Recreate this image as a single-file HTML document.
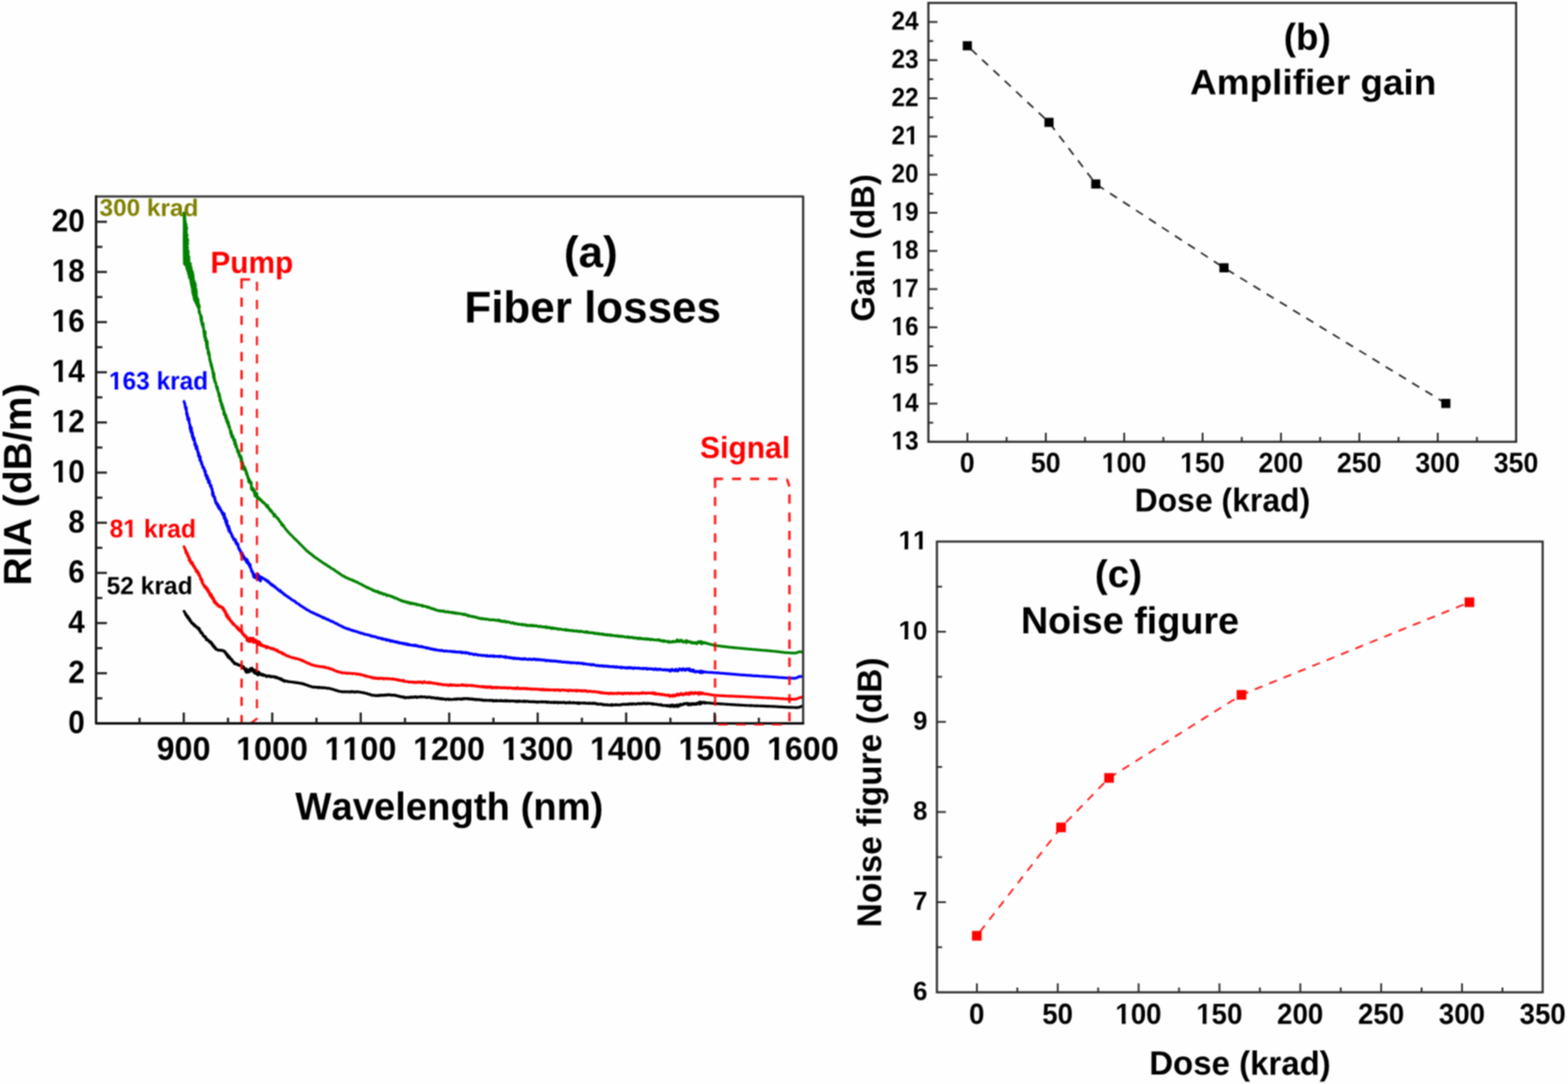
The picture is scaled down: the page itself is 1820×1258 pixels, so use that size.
<!DOCTYPE html>
<html lang="en"><head><meta charset="utf-8"><title>Fiber losses, amplifier gain and noise figure versus dose</title>
<style>
html,body{margin:0;padding:0;background:#fefefe;}
body{width:1820px;height:1258px;overflow:hidden;}
svg{display:block;}
svg text{font-family:"Liberation Sans",Arial,Helvetica,sans-serif;font-weight:bold;font-kerning:none;}
</style></head><body>
<svg width="1820" height="1258" viewBox="0 0 1820 1258">
<defs><clipPath id="c0"><path clip-rule="evenodd" d="M-60,-110H1400V60H-60ZM1.0,-12.5H23.1V3H1.0ZM37.3,-12.5H58.0V3H37.3Z"/></clipPath><clipPath id="c0_56"><path clip-rule="evenodd" d="M-60,-110H1400V60H-60ZM1.0,-12.5H23.1V3H1.0ZM37.3,-12.5H58.0V3H37.3ZM56.6,-12.5H78.7V3H56.6ZM92.9,-12.5H113.6V3H92.9Z"/></clipPath><clipPath id="c56"><path clip-rule="evenodd" d="M-60,-110H1400V60H-60ZM56.6,-12.5H78.7V3H56.6ZM92.9,-12.5H113.6V3H92.9Z"/></clipPath></defs>
<defs><filter id="soft" x="-60" y="-60" width="1940" height="1378" filterUnits="userSpaceOnUse" color-interpolation-filters="sRGB"><feConvolveMatrix order="3" kernelMatrix="1 2.0 1 2.0 4.0 2.0 1 2.0 1" edgeMode="duplicate" preserveAlpha="true"/></filter></defs>
<g filter="url(#soft)">
<rect x="-60" y="-60" width="1940" height="1378" fill="#fefefe"/>
<g id="panel-a">
<path d="M213.6,709.3 213.85,709.8 214.1,710.2 214.35,710.4 214.6,710.9 214.85,711.1 215.1,712.0 215.35,713.3 215.6,712.5 215.85,712.8 216.1,714.2 216.35,714.5 216.6,714.6 216.85,714.1 217.1,715.3 217.35,716.4 217.6,715.0 217.85,716.2 218.1,715.3 218.35,716.2 218.6,716.2 218.85,717.9 219.1,717.4 219.35,719.0 219.6,719.2 219.85,719.3 220.1,718.0 220.35,719.7 220.6,720.4 220.85,720.8 221.1,720.0 221.35,721.0 221.6,721.0 221.85,721.4 222.1,722.8 222.35,722.0 222.6,722.7 222.85,723.4 223.1,722.9 223.35,723.4 223.6,723.7 223.85,723.9 224.1,723.5 224.35,724.4 224.6,725.2 224.85,724.1 225.1,725.4 225.35,725.2 225.6,725.1 225.85,726.5 226.1,726.2 226.35,725.5 226.6,726.3 226.85,726.7 227.1,726.5 227.35,727.2 227.6,727.0 227.85,727.6 228.1,728.2 228.35,727.4 228.6,728.0 228.85,727.9 229.1,728.4 229.35,728.0 229.6,728.5 229.85,729.0 230.1,729.9 230.35,730.3 230.6,729.1 230.85,729.7 231.1,730.9 231.35,729.4 231.6,730.8 231.85,731.3 232.1,732.7 232.35,732.6 232.6,732.2 232.85,732.5 233.1,732.9 233.35,734.7 233.6,733.5 233.85,734.0 234.1,734.8 234.35,734.8 234.6,735.1 234.85,734.8 235.1,736.0 235.35,736.0 235.6,737.6 235.85,737.5 236.1,737.3 236.35,738.2 236.6,737.8 236.85,739.0 237.1,738.6 237.35,739.2 237.6,738.4 237.85,739.6 238.1,738.7 238.35,738.8 238.6,740.1 238.85,740.0 239.1,740.9 239.35,742.3 239.6,740.8 239.85,741.2 240.1,741.9 240.35,742.3 240.6,742.2 240.85,742.4 241.1,743.1 241.35,743.2 241.6,742.7 241.85,743.4 242.1,743.7 242.35,743.4 242.6,744.3 242.85,743.9 243.1,745.1 243.35,744.9 243.6,745.1 243.85,745.0 244.1,745.5 244.35,744.7 244.6,745.4 244.85,746.5 245.1,745.4 245.35,747.2 245.6,746.0 245.85,747.7 246.1,747.0 246.35,748.3 246.6,748.2 246.85,747.4 247.1,749.5 247.35,750.0 247.6,749.2 247.85,749.4 248.1,749.8 248.35,749.6 248.6,751.3 248.85,750.5 249.1,751.1 249.35,750.9 249.6,751.4 249.85,751.3 250.1,753.1 250.35,752.5 250.6,753.4 250.85,753.1 251.1,753.0 251.35,753.4 251.6,753.5 251.85,753.9 252.1,753.9 252.35,754.0 252.6,754.0 252.85,754.2 253.1,754.6 253.35,754.3 253.6,754.3 253.85,754.5 254.1,754.7 254.35,754.3 254.6,754.5 254.85,754.5 255.1,754.3 255.35,754.7 255.6,754.6 255.85,754.7 256.1,754.6 256.35,754.8 256.6,754.6 256.85,754.7 257.1,754.6 257.35,754.6 257.6,755.0 257.85,754.8 258.1,755.0 258.35,754.9 258.6,754.9 258.85,755.0 259.1,755.3 259.35,755.2 259.6,755.4 259.85,755.6 260.1,756.3 260.35,756.3 260.6,756.4 260.85,756.1 261.1,755.9 261.35,757.5 261.6,757.8 261.85,757.4 262.1,758.2 262.35,758.7 262.6,759.0 262.85,759.5 263.1,758.8 263.35,760.6 263.6,758.8 263.85,760.8 264.1,760.9 264.35,761.5 264.6,762.6 264.85,762.6 265.1,761.0 265.35,761.0 265.6,763.1 265.85,762.1 266.1,763.2 266.35,764.0 266.6,762.7 266.85,762.8 267.1,764.5 267.35,764.6 267.6,764.7 267.85,765.1 268.1,764.9 268.35,764.7 268.6,765.8 268.85,765.6 269.1,765.5 269.35,767.1 269.6,767.0 269.85,767.6 270.1,767.0 270.35,767.5 270.6,767.5 270.85,767.9 271.1,768.7 271.35,768.4 271.6,769.2 271.85,769.4 272.1,770.3 272.35,769.1 272.6,770.1 272.85,769.9 273.1,770.1 273.35,769.8 273.6,770.3 273.85,770.7 274.1,770.6 274.35,770.7 274.6,770.8 274.85,771.2 275.1,771.0 275.35,770.7 275.6,771.1 275.85,770.9 276.1,770.8 276.35,771.4 276.6,771.8 276.85,771.6 277.1,771.5 277.35,771.6 277.6,772.1 277.85,772.0 278.1,772.1 278.35,772.1 278.6,772.3 278.85,772.5 279.1,772.6 279.35,772.6 279.6,772.4 279.85,773.0 280.1,772.7 280.35,773.5 280.6,772.8 280.85,773.4 281.1,773.7 281.35,773.2 281.6,775.1 281.85,775.2 282.1,774.4 282.35,775.4 282.6,775.4 282.85,773.9 283.1,775.9 283.35,776.0 283.6,776.3 283.85,775.9 284.1,776.7 284.35,777.0 284.6,777.9 284.85,777.7 285.1,777.7 285.35,779.7 285.6,777.4 285.85,777.8 286.1,776.2 286.35,780.3 286.6,779.7 286.85,779.7 287.1,779.4 287.35,778.7 287.6,778.8 287.85,778.2 288.1,778.2 288.35,778.4 288.6,780.0 288.85,778.7 289.1,777.9 289.35,777.1 289.6,776.9 289.85,779.5 290.1,778.0 290.35,777.4 290.6,776.8 290.85,775.8 291.1,777.0 291.35,778.1 291.6,776.6 291.85,776.9 292.1,776.9 292.35,777.4 292.6,775.4 292.85,777.1 293.1,776.5 293.35,778.6 293.6,776.8 293.85,778.5 294.1,779.8 294.35,777.7 294.6,777.5 294.85,778.7 295.1,778.6 295.35,777.6 295.6,779.5 295.85,781.5 296.1,778.9 296.35,779.2 296.6,778.3 296.85,780.1 297.1,778.4 297.35,778.7 297.6,781.7 297.85,779.3 298.1,781.8 298.35,782.4 298.6,781.0 298.85,781.5 299.1,783.3 299.35,780.8 299.6,780.4 299.85,779.6 300.1,781.4 300.35,783.2 300.6,782.7 300.85,780.5 301.1,780.7 301.35,781.3 301.6,782.3 301.85,781.8 302.1,782.4 302.35,782.6 302.6,782.0 302.85,782.4 303.1,782.7 303.35,782.6 303.6,783.0 303.85,783.6 304.1,783.2 304.35,783.1 304.6,782.5 304.85,783.4 305,782.5 305.5,782.9 306,784.0 306.5,784.1 307,783.9 307.5,783.4 308,784.0 308.5,784.0 309,784.6 309.5,785.4 310,784.6 310.5,784.3 311,784.2 311.5,784.7 312,784.8 312.5,784.4 313,785.0 313.5,784.5 314,785.5 314.5,785.5 315,785.6 315.5,785.0 316,785.5 316.5,785.3 317,785.3 317.5,785.4 318,785.1 318.5,785.1 319,786.1 319.5,785.8 320,786.1 320.5,786.6 321,785.6 321.5,786.2 322,786.7 322.5,787.0 323,786.9 323.5,787.7 324,787.5 324.5,787.2 325,787.5 325.5,788.4 326,788.5 326.5,787.7 327,789.3 327.5,789.2 328,789.7 328.5,789.2 329,789.4 329.5,789.3 330,790.9 330.5,790.0 331,790.5 331.5,790.3 332,790.5 332.5,790.3 333,790.7 333.5,791.0 334,790.7 334.5,791.2 335,791.1 335.5,791.0 336,791.2 336.5,791.2 337,791.4 337.5,791.4 338,791.4 338.5,791.5 339,791.5 339.5,791.5 340,791.7 340.5,791.9 341,791.6 341.5,791.9 342,791.9 342.5,791.9 343,792.2 343.5,792.1 344,792.4 344.5,792.1 345,792.4 345.5,792.4 346,792.3 346.5,792.6 347,792.6 347.5,792.8 348,792.8 348.5,792.7 349,793.0 349.5,793.1 350,793.4 350.5,793.2 351,793.5 351.5,793.3 352,793.9 352.5,793.7 353,793.8 353.5,794.2 354,794.6 354.5,794.4 355,794.6 355.5,794.8 356,794.9 356.5,795.4 357,795.3 357.5,795.5 358,795.9 358.5,795.9 359,796.2 359.5,796.2 360,796.3 360.5,796.3 361,797.0 361.5,796.8 362,797.0 362.5,797.1 363,797.2 363.5,797.3 364,797.7 364.5,797.3 365,797.2 365.5,797.4 366,797.4 366.5,797.7 367,797.8 367.5,797.6 368,797.5 368.5,797.7 369,798.0 369.5,797.4 370,798.0 370.5,797.7 371,798.1 371.5,797.8 372,798.0 372.5,797.8 373,797.9 373.5,798.3 374,798.3 374.5,798.1 375,798.0 375.5,797.9 376,798.2 376.5,798.3 377,798.3 377.5,798.3 378,798.2 378.5,798.4 379,798.5 379.5,798.8 380,798.9 380.5,798.6 381,798.6 381.5,798.8 382,798.8 382.5,798.9 383,799.1 383.5,799.1 384,799.5 384.5,799.5 385,799.7 385.5,799.8 386,799.8 386.5,800.0 387,800.2 387.5,800.3 388,800.6 388.5,800.8 389,800.7 389.5,801.1 390,801.0 390.5,801.3 391,801.5 391.5,801.4 392,801.8 392.5,802.0 393,802.1 393.5,802.2 394,802.3 394.5,802.3 395,802.5 395.5,802.5 396,802.7 396.5,802.6 397,802.9 397.5,802.9 398,802.9 398.5,802.8 399,803.0 399.5,802.6 400,803.0 400.5,802.9 401,802.9 401.5,803.0 402,802.8 402.5,802.9 403,803.0 403.5,803.0 404,802.9 404.5,802.7 405,803.0 405.5,803.1 406,803.1 406.5,802.9 407,802.7 407.5,803.1 408,802.9 408.5,802.5 409,803.0 409.5,802.7 410,802.7 410.5,802.8 411,803.1 411.5,802.8 412,802.9 412.5,803.2 413,803.2 413.5,802.9 414,802.9 414.5,802.7 415,802.8 415.5,803.0 416,803.0 416.5,803.0 417,803.2 417.5,803.0 418,803.2 418.5,803.4 419,803.5 419.5,803.6 420,803.6 420.5,803.6 421,803.8 421.5,803.7 422,803.8 422.5,804.2 423,804.3 423.5,804.4 424,804.3 424.5,804.6 425,804.7 425.5,804.8 426,804.7 426.5,805.2 427,805.5 427.5,805.6 428,805.5 428.5,805.8 429,806.0 429.5,805.6 430,806.1 430.5,806.4 431,806.5 431.5,806.9 432,806.9 432.5,806.7 433,806.8 433.5,807.0 434,806.8 434.5,806.9 435,807.2 435.5,807.5 436,807.0 436.5,807.1 437,807.2 437.5,807.4 438,807.1 438.5,807.5 439,806.8 439.5,807.0 440,807.0 440.5,807.2 441,807.3 441.5,806.6 442,806.7 442.5,807.0 443,806.7 443.5,806.5 444,807.1 444.5,806.9 445,806.9 445.5,806.6 446,806.9 446.5,806.6 447,806.9 447.5,806.4 448,806.3 448.5,806.6 449,806.3 449.5,806.7 450,806.5 450.5,806.2 451,806.4 451.5,806.3 452,806.6 452.5,806.2 453,806.3 453.5,806.7 454,807.0 454.5,807.0 455,806.5 455.5,806.6 456,807.0 456.5,806.7 457,806.5 457.5,806.9 458,807.1 458.5,806.8 459,806.7 459.5,806.9 460,807.5 460.5,807.3 461,807.5 461.5,807.8 462,808.0 462.5,807.8 463,808.2 463.5,807.9 464,808.2 464.5,808.1 465,808.8 465.5,808.6 466,808.5 466.5,808.7 467,808.8 467.5,809.1 468,808.6 468.5,808.8 469,809.1 469.5,809.9 470,809.5 470.5,809.3 471,809.5 471.5,809.8 472,809.2 472.5,809.2 473,809.6 473.5,809.4 474,809.5 474.5,809.1 475,809.8 475.5,809.7 476,809.4 476.5,809.4 477,808.7 477.5,809.4 478,809.2 478.5,809.3 479,809.4 479.5,809.1 480,808.7 480.5,809.2 481,808.9 481.5,809.0 482,808.9 482.5,809.0 483,808.5 483.5,809.4 484,809.1 484.5,809.3 485,809.5 485.5,809.0 486,808.5 486.5,808.8 487,808.7 487.5,808.8 488,809.0 488.5,808.4 489,809.0 489.5,808.5 490,809.0 490.5,808.9 491,808.8 491.5,808.9 492,808.8 492.5,808.7 493,808.5 493.5,808.9 494,809.4 494.5,809.4 495,809.3 495.5,809.1 496,808.8 496.5,809.4 497,809.0 497.5,809.1 498,809.1 498.5,809.2 499,809.1 499.5,809.3 500,809.1 500.5,809.3 501,810.0 501.5,809.5 502,809.5 502.5,809.8 503,809.9 503.5,809.5 504,809.8 504.5,810.1 505,810.1 505.5,810.1 506,810.5 506.5,810.0 507,810.3 507.5,810.2 508,810.8 508.5,810.0 509,810.4 509.5,810.5 510,810.9 510.5,810.9 511,811.2 511.5,810.5 512,811.2 512.5,811.0 513,810.9 513.5,811.3 514,811.0 514.5,810.8 515,811.2 515.5,811.0 516,811.3 516.5,811.6 517,811.6 517.5,812.0 518,811.5 518.5,811.2 519,811.5 519.5,811.4 520,811.4 520.5,811.8 521,811.5 521.5,811.2 522,811.9 522.5,811.7 523,811.8 523.5,811.7 524,811.8 524.5,811.7 525,811.9 525.5,811.7 526,811.7 526.5,811.7 527,811.2 527.5,811.5 528,811.4 528.5,811.5 529,811.1 529.5,811.8 530,811.4 530.5,811.1 531,810.9 531.5,811.2 532,811.3 532.5,811.1 533,811.2 533.5,811.0 534,811.3 534.5,811.0 535,811.1 535.5,811.4 536,811.7 536.5,810.8 537,810.9 537.5,810.8 538,811.2 538.5,810.7 539,810.9 539.5,811.0 540,810.7 540.5,810.8 541,810.9 541.5,810.5 542,810.7 542.5,810.9 543,811.1 543.5,811.0 544,810.6 544.5,811.0 545,811.3 545.5,811.3 546,811.2 546.5,811.0 547,811.4 547.5,811.1 548,811.0 548.5,811.1 549,811.7 549.5,811.5 550,811.7 550.5,811.4 551,811.8 551.5,811.4 552,811.6 552.5,812.3 553,811.9 553.5,811.6 554,811.8 554.5,811.9 555,812.2 555.5,811.8 556,811.5 556.5,812.0 557,812.1 557.5,812.1 558,812.5 558.5,812.3 559,812.5 559.5,812.0 560,812.6 560.5,812.9 561,812.6 561.5,812.5 562,812.5 562.5,813.0 563,812.3 563.5,812.6 564,812.8 564.5,812.9 565,812.6 565.5,812.8 566,812.7 566.5,812.8 567,812.8 567.5,812.6 568,812.9 568.5,813.1 569,812.7 569.5,812.9 570,813.1 570.5,812.7 571,813.0 571.5,812.7 572,813.3 572.5,813.6 573,813.6 573.5,813.0 574,813.3 574.5,813.1 575,813.1 575.5,813.5 576,812.8 576.5,813.4 577,813.1 577.5,813.5 578,813.2 578.5,813.0 579,813.3 579.5,813.4 580,813.2 580.5,813.4 581,813.1 581.5,812.7 582,813.5 582.5,813.4 583,813.3 583.5,813.3 584,813.6 584.5,813.2 585,813.1 585.5,813.3 586,813.6 586.5,813.0 587,813.7 587.5,813.2 588,813.1 588.5,813.7 589,813.4 589.5,813.1 590,813.3 590.5,813.7 591,813.8 591.5,813.3 592,813.6 592.5,813.7 593,813.3 593.5,813.6 594,813.5 594.5,813.4 595,813.4 595.5,813.6 596,813.6 596.5,813.4 597,813.5 597.5,813.9 598,813.7 598.5,813.9 599,814.0 599.5,813.8 600,814.3 600.5,813.5 601,813.9 601.5,813.7 602,814.2 602.5,814.2 603,813.3 603.5,813.6 604,814.0 604.5,814.0 605,814.0 605.5,813.9 606,814.0 606.5,814.1 607,813.9 607.5,814.2 608,813.4 608.5,814.1 609,813.7 609.5,814.3 610,814.0 610.5,813.8 611,814.2 611.5,813.9 612,813.9 612.5,813.7 613,814.1 613.5,814.3 614,814.5 614.5,814.2 615,814.5 615.5,814.3 616,814.2 616.5,814.4 617,814.6 617.5,814.2 618,814.3 618.5,814.3 619,814.4 619.5,814.2 620,814.7 620.5,814.3 621,814.6 621.5,814.3 622,814.6 622.5,814.6 623,814.4 623.5,815.0 624,814.6 624.5,815.0 625,814.8 625.5,814.4 626,814.5 626.5,814.7 627,814.7 627.5,814.7 628,814.6 628.5,814.2 629,814.6 629.5,814.1 630,814.8 630.5,814.6 631,814.6 631.5,814.7 632,814.9 632.5,814.4 633,814.4 633.5,814.6 634,814.3 634.5,814.6 635,815.3 635.5,814.6 636,815.1 636.5,814.6 637,815.0 637.5,814.9 638,814.9 638.5,815.1 639,815.4 639.5,815.0 640,815.0 640.5,814.8 641,815.2 641.5,815.0 642,815.3 642.5,815.1 643,815.5 643.5,814.6 644,815.0 644.5,815.4 645,815.1 645.5,815.0 646,815.1 646.5,814.8 647,815.2 647.5,815.8 648,815.5 648.5,815.0 649,815.0 649.5,815.2 650,815.5 650.5,815.1 651,815.1 651.5,815.5 652,815.6 652.5,815.3 653,815.1 653.5,815.0 654,815.2 654.5,814.8 655,815.6 655.5,815.3 656,815.6 656.5,815.9 657,815.8 657.5,815.2 658,815.7 658.5,815.8 659,815.3 659.5,815.3 660,815.5 660.5,815.1 661,815.9 661.5,815.0 662,815.3 662.5,815.5 663,815.6 663.5,815.7 664,815.7 664.5,815.6 665,815.9 665.5,815.1 666,815.7 666.5,815.5 667,815.7 667.5,815.8 668,815.5 668.5,815.6 669,815.9 669.5,815.8 670,815.6 670.5,816.3 671,816.4 671.5,815.4 672,815.9 672.5,816.5 673,816.0 673.5,815.9 674,815.8 674.5,815.7 675,815.8 675.5,815.8 676,816.1 676.5,815.8 677,815.8 677.5,815.6 678,816.0 678.5,815.7 679,815.9 679.5,816.3 680,816.1 680.5,816.2 681,816.1 681.5,816.1 682,816.1 682.5,816.0 683,816.3 683.5,815.9 684,816.5 684.5,816.2 685,816.0 685.5,816.1 686,816.1 686.5,816.3 687,816.1 687.5,816.6 688,816.1 688.5,815.8 689,816.2 689.5,815.9 690,816.4 690.5,816.7 691,816.6 691.5,816.2 692,816.3 692.5,817.0 693,816.7 693.5,816.7 694,817.0 694.5,817.4 695,817.2 695.5,817.0 696,817.1 696.5,817.2 697,817.0 697.5,816.9 698,817.3 698.5,817.1 699,817.4 699.5,817.5 700,818.2 700.5,817.4 701,817.7 701.5,817.7 702,817.9 702.5,818.2 703,817.8 703.5,817.8 704,817.6 704.5,817.9 705,818.3 705.5,818.2 706,818.0 706.5,818.1 707,818.3 707.5,818.4 708,818.1 708.5,818.2 709,817.8 709.5,818.0 710,818.7 710.5,817.7 711,818.2 711.5,818.3 712,818.1 712.5,818.0 713,818.2 713.5,818.2 714,818.1 714.5,817.6 715,818.1 715.5,817.8 716,817.9 716.5,818.1 717,818.1 717.5,818.2 718,817.8 718.5,818.1 719,818.1 719.5,818.1 720,818.1 720.5,817.7 721,817.6 721.5,817.9 722,817.3 722.5,817.6 723,817.4 723.5,817.4 724,817.0 724.5,817.2 725,817.4 725.5,817.6 726,817.6 726.5,817.3 727,817.2 727.5,817.0 728,817.3 728.5,817.1 729,817.3 729.5,817.6 730,817.1 730.5,816.7 731,816.8 731.5,816.7 732,816.7 732.5,817.3 733,817.0 733.5,816.6 734,817.1 734.5,817.2 735,816.8 735.5,816.7 736,816.8 736.5,816.9 737,817.0 737.5,817.1 738,817.1 738.5,817.0 739,817.1 739.5,816.9 740,816.3 740.5,816.6 741,816.7 741.5,816.5 742,816.8 742.5,816.5 743,816.3 743.5,816.9 744,816.7 744.5,816.6 745,816.7 745.5,816.8 746,816.6 746.5,815.8 747,816.3 747.5,816.3 748,816.2 748.5,816.5 749,816.7 749.5,816.3 750,816.1 750.5,816.9 751,816.3 751.5,816.1 752,816.5 752.5,816.5 753,816.2 753.5,816.6 754,816.3 754.5,816.3 755,816.6 755.5,816.8 756,816.4 756.5,816.7 757,816.7 757.5,817.5 758,816.6 758.5,817.2 759,816.9 759.5,816.9 760,817.2 760.5,817.3 761,817.5 761.5,817.3 762,817.1 762.5,817.2 763,817.6 763.5,817.7 764,818.0 764.5,817.8 765,818.0 765.5,818.2 766,817.9 766.5,817.6 767,817.7 767.5,817.8 768,818.6 768.5,818.1 769,818.7 769.5,818.6 770,818.9 770.5,818.8 771,818.6 771.5,818.6 772,818.8 772.5,818.9 773,818.7 773.5,818.9 774,819.4 774.5,818.6 775,819.1 775.5,818.9 776,819.2 776.5,819.6 777,819.2 777.5,819.7 778,818.4 778.5,819.9 779,819.0 779.5,819.6 780,819.4 780.5,817.9 781,818.9 781.5,819.4 782,820.1 782.5,819.3 783,819.3 783.5,818.3 784,819.8 784.5,819.9 785,818.9 785.5,818.6 786,817.8 786.5,819.1 787,820.0 787.5,818.8 788,819.0 788.5,818.5 789,817.6 789.5,818.8 790,817.2 790.5,817.7 791,817.9 791.5,818.1 792,817.8 792.5,817.7 793,817.0 793.5,816.6 794,817.3 794.5,816.8 795,816.5 795.5,816.5 796,816.9 796.5,816.1 797,816.4 797.5,816.2 798,817.2 798.5,817.3 799,818.2 799.5,816.3 800,816.7 800.5,817.6 801,817.0 801.5,816.9 802,818.0 802.5,816.9 803,816.5 803.5,816.4 804,817.3 804.5,817.3 805,816.3 805.5,816.6 806,817.4 806.5,817.4 807,816.7 807.5,817.4 808,817.4 808.5,816.1 809,816.9 809.5,817.2 810,816.5 810.5,815.5 811,816.3 811.5,816.6 812,816.9 812.5,814.6 813,817.1 813.5,814.9 814,815.9 814.5,816.1 815,815.9 815.5,815.5 816,814.8 816.5,815.6 817,815.3 817.5,814.8 818,816.0 818.5,815.6 819,815.8 819.5,815.4 820,815.9 820.5,815.7 821,815.8 821.5,815.7 822,815.7 822.5,815.8 823,815.8 823.5,815.8 824,815.9 824.5,815.9 825,816.0 825.5,816.1 826,816.2 826.5,816.2 827,816.2 827.5,816.3 828,816.2 828.5,816.3 829,816.4 829.5,816.3 830,816.4 830.5,816.4 831,816.5 831.5,816.6 832,816.5 832.5,816.6 833,816.6 833.5,816.6 834,816.6 834.5,816.7 835,816.8 835.5,816.8 836,816.8 836.5,816.8 837,816.8 837.5,816.9 838,816.9 838.5,817.0 839,817.0 839.5,817.0 840,817.0 840.5,817.0 841,817.1 841.5,817.1 842,817.2 842.5,817.2 843,817.3 843.5,817.3 844,817.3 844.5,817.3 845,817.3 845.5,817.4 846,817.5 846.5,817.5 847,817.5 847.5,817.6 848,817.5 848.5,817.7 849,817.6 849.5,817.6 850,817.8 850.5,817.8 851,817.7 851.5,817.8 852,817.8 852.5,817.9 853,817.8 853.5,817.9 854,818.0 854.5,818.0 855,818.1 855.5,818.1 856,818.2 856.5,818.1 857,818.1 857.5,818.1 858,818.1 858.5,818.3 859,818.2 859.5,818.3 860,818.3 860.5,818.3 861,818.3 861.5,818.4 862,818.4 862.5,818.5 863,818.5 863.5,818.5 864,818.5 864.5,818.6 865,818.6 865.5,818.6 866,818.7 866.5,818.7 867,818.7 867.5,818.7 868,818.7 868.5,818.7 869,818.7 869.5,818.8 870,818.8 870.5,818.8 871,818.8 871.5,818.8 872,818.8 872.5,819.0 873,818.9 873.5,819.0 874,819.0 874.5,819.0 875,819.0 875.5,819.0 876,819.1 876.5,819.0 877,819.1 877.5,819.1 878,819.1 878.5,819.1 879,819.2 879.5,819.1 880,819.2 880.5,819.2 881,819.2 881.5,819.2 882,819.2 882.5,819.3 883,819.3 883.5,819.2 884,819.4 884.5,819.4 885,819.4 885.5,819.4 886,819.4 886.5,819.4 887,819.4 887.5,819.4 888,819.5 888.5,819.6 889,819.4 889.5,819.6 890,819.5 890.5,819.5 891,819.6 891.5,819.5 892,819.6 892.5,819.7 893,819.6 893.5,819.7 894,819.7 894.5,819.7 895,819.8 895.5,819.7 896,819.8 896.5,819.7 897,819.8 897.5,819.8 898,819.8 898.5,819.9 899,819.9 899.5,819.9 900,820.0 900.5,820.0 901,820.0 901.5,820.1 902,820.1 902.5,820.2 903,820.2 903.5,820.1 904,820.2 904.5,820.3 905,820.3 905.5,820.3 906,820.3 906.5,820.4 907,820.4 907.5,820.5 908,820.4 908.5,820.4 909,820.5 909.5,820.6 910,820.6 910.5,820.6 911,820.6 911.5,820.6 912,820.6 912.5,820.6 913,820.8 913.5,820.7 914,820.8 914.5,820.8 915,820.8 915.5,820.8 916,821.0 916.5,820.9 917,820.9 917.5,821.0 918,821.0 918.5,820.9 919,821.0 919.5,821.0 920,820.9 920.5,821.0 921,821.0 921.5,821.0 922,821.0 922.5,821.1 923,821.1 923.5,821.1 924,821.0 924.5,821.1 925,821.0 925.5,821.1 926,821.1 926.5,821.0 927,820.9 927.5,820.9 928,820.6 928.5,820.5 929,820.3 929.5,820.1 930,819.8 930.5,819.6 931,819.4" fill="none" stroke="#000" stroke-width="3.15" stroke-linejoin="round" stroke-linecap="round"/>
<path d="M213.6,634.4 213.85,634.9 214.1,635.4 214.35,636.3 214.6,636.3 214.85,637.5 215.1,638.3 215.35,637.9 215.6,639.3 215.85,641.6 216.1,640.7 216.35,640.0 216.6,641.3 216.85,640.8 217.1,642.9 217.35,644.2 217.6,642.6 217.85,643.9 218.1,646.1 218.35,644.7 218.6,646.0 218.85,645.1 219.1,645.9 219.35,646.8 219.6,650.3 219.85,647.9 220.1,648.3 220.35,648.8 220.6,649.7 220.85,651.0 221.1,651.0 221.35,653.4 221.6,652.0 221.85,653.7 222.1,653.0 222.35,653.7 222.6,652.2 222.85,653.9 223.1,654.4 223.35,654.6 223.6,653.3 223.85,656.5 224.1,655.7 224.35,656.1 224.6,656.7 224.85,657.1 225.1,658.0 225.35,657.0 225.6,657.7 225.85,659.1 226.1,659.4 226.35,659.3 226.6,659.5 226.85,659.7 227.1,660.8 227.35,662.3 227.6,660.7 227.85,663.4 228.1,663.2 228.35,662.4 228.6,664.0 228.85,662.3 229.1,662.5 229.35,663.3 229.6,664.6 229.85,665.1 230.1,665.4 230.35,666.5 230.6,664.6 230.85,667.9 231.1,666.2 231.35,667.6 231.6,668.4 231.85,668.0 232.1,668.3 232.35,669.2 232.6,670.9 232.85,672.2 233.1,672.6 233.35,671.4 233.6,672.1 233.85,672.5 234.1,674.6 234.35,672.3 234.6,676.4 234.85,675.0 235.1,675.2 235.35,676.8 235.6,677.9 235.85,677.7 236.1,678.8 236.35,678.3 236.6,679.7 236.85,680.1 237.1,679.3 237.35,681.1 237.6,680.4 237.85,680.7 238.1,680.2 238.35,681.1 238.6,682.4 238.85,681.1 239.1,683.0 239.35,683.2 239.6,683.5 239.85,681.8 240.1,683.9 240.35,684.8 240.6,684.1 240.85,685.1 241.1,683.5 241.35,686.3 241.6,685.6 241.85,687.2 242.1,685.4 242.35,687.7 242.6,687.4 242.85,688.5 243.1,687.5 243.35,688.1 243.6,690.8 243.85,688.7 244.1,689.1 244.35,689.8 244.6,689.6 244.85,691.8 245.1,692.7 245.35,691.0 245.6,690.5 245.85,693.4 246.1,693.8 246.35,693.9 246.6,694.7 246.85,693.2 247.1,694.3 247.35,693.6 247.6,694.0 247.85,696.5 248.1,695.5 248.35,698.5 248.6,696.9 248.85,696.7 249.1,698.3 249.35,699.5 249.6,698.8 249.85,697.8 250.1,699.4 250.35,700.5 250.6,699.5 250.85,699.6 251.1,701.2 251.35,700.9 251.6,700.4 251.85,701.1 252.1,701.2 252.35,702.1 252.6,702.2 252.85,702.9 253.1,702.9 253.35,702.1 253.6,703.1 253.85,703.4 254.1,703.4 254.35,703.8 254.6,703.4 254.85,703.4 255.1,704.1 255.35,703.7 255.6,703.5 255.85,704.5 256.1,704.2 256.35,704.4 256.6,704.2 256.85,704.3 257.1,704.5 257.35,704.9 257.6,705.4 257.85,704.5 258.1,705.9 258.35,705.2 258.6,705.5 258.85,706.6 259.1,706.5 259.35,705.8 259.6,708.4 259.85,706.8 260.1,708.0 260.35,708.3 260.6,709.8 260.85,708.5 261.1,710.3 261.35,709.1 261.6,711.4 261.85,710.0 262.1,710.8 262.35,713.7 262.6,712.5 262.85,712.8 263.1,715.5 263.35,714.0 263.6,713.2 263.85,715.4 264.1,713.8 264.35,716.7 264.6,717.2 264.85,715.9 265.1,716.3 265.35,717.5 265.6,717.8 265.85,717.3 266.1,719.1 266.35,717.3 266.6,719.0 266.85,719.4 267.1,719.8 267.35,720.5 267.6,719.8 267.85,721.2 268.1,721.1 268.35,721.0 268.6,720.9 268.85,721.3 269.1,722.4 269.35,721.9 269.6,722.7 269.85,723.5 270.1,723.7 270.35,724.2 270.6,723.5 270.85,723.3 271.1,724.6 271.35,724.5 271.6,725.1 271.85,724.8 272.1,725.6 272.35,725.7 272.6,725.8 272.85,726.0 273.1,726.1 273.35,726.3 273.6,726.5 273.85,727.2 274.1,726.6 274.35,728.1 274.6,727.3 274.85,728.2 275.1,727.9 275.35,728.0 275.6,729.5 275.85,728.5 276.1,728.2 276.35,728.8 276.6,729.2 276.85,730.9 277.1,730.0 277.35,730.7 277.6,729.9 277.85,730.9 278.1,731.3 278.35,732.2 278.6,731.0 278.85,732.0 279.1,732.1 279.35,731.6 279.6,732.5 279.85,732.6 280.1,731.6 280.35,733.6 280.6,733.9 280.85,733.6 281.1,733.3 281.35,735.5 281.6,735.0 281.85,735.8 282.1,736.4 282.35,735.4 282.6,736.6 282.85,736.2 283.1,736.6 283.35,736.9 283.6,737.3 283.85,738.4 284.1,738.0 284.35,738.1 284.6,738.3 284.85,739.0 285.1,737.8 285.35,738.6 285.6,739.5 285.85,739.0 286.1,739.8 286.35,739.3 286.6,743.2 286.85,742.4 287.1,741.3 287.35,740.8 287.6,744.0 287.85,741.5 288.1,741.1 288.35,741.7 288.6,741.8 288.85,743.5 289.1,741.6 289.35,744.6 289.6,740.5 289.85,742.8 290.1,740.5 290.35,744.5 290.6,741.6 290.85,742.1 291.1,743.5 291.35,744.1 291.6,740.9 291.85,742.0 292.1,740.6 292.35,742.9 292.6,742.6 292.85,742.4 293.1,742.0 293.35,742.6 293.6,742.2 293.85,744.1 294.1,745.6 294.35,740.9 294.6,743.5 294.85,743.2 295.1,744.6 295.35,742.7 295.6,744.0 295.85,742.8 296.1,745.4 296.35,744.7 296.6,744.5 296.85,745.3 297.1,744.6 297.35,742.9 297.6,746.0 297.85,745.7 298.1,745.2 298.35,747.0 298.6,747.4 298.85,744.3 299.1,744.9 299.35,748.2 299.6,748.2 299.85,745.3 300.1,744.8 300.35,745.7 300.6,746.0 300.85,744.7 301.1,747.0 301.35,745.3 301.6,745.6 301.85,748.7 302.1,746.6 302.35,747.6 302.6,748.7 302.85,749.1 303.1,747.9 303.35,748.2 303.6,748.0 303.85,749.2 304.1,748.9 304.35,748.3 304.6,748.9 304.85,749.3 305,749.2 305.5,750.0 306,750.1 306.5,749.5 307,749.9 307.5,749.6 308,750.5 308.5,750.6 309,751.8 309.5,750.9 310,750.2 310.5,751.0 311,751.4 311.5,751.0 312,751.4 312.5,751.7 313,752.1 313.5,752.1 314,751.9 314.5,752.8 315,752.4 315.5,752.6 316,752.4 316.5,752.8 317,753.5 317.5,752.7 318,753.5 318.5,754.0 319,753.8 319.5,754.2 320,753.9 320.5,755.0 321,755.2 321.5,755.0 322,754.5 322.5,755.0 323,756.1 323.5,756.6 324,756.3 324.5,756.9 325,756.5 325.5,756.9 326,757.3 326.5,757.7 327,757.2 327.5,758.5 328,758.9 328.5,758.2 329,758.4 329.5,759.3 330,759.2 330.5,759.3 331,760.1 331.5,760.2 332,760.3 332.5,761.0 333,760.9 333.5,761.0 334,761.3 334.5,761.3 335,761.5 335.5,761.9 336,761.9 336.5,762.1 337,762.6 337.5,762.6 338,762.8 338.5,762.9 339,763.0 339.5,763.3 340,763.2 340.5,763.6 341,763.3 341.5,763.6 342,763.5 342.5,763.8 343,764.1 343.5,764.4 344,764.2 344.5,764.4 345,764.5 345.5,764.6 346,764.7 346.5,765.0 347,764.9 347.5,765.4 348,765.5 348.5,765.6 349,765.7 349.5,765.8 350,766.5 350.5,766.2 351,766.9 351.5,766.9 352,767.0 352.5,767.1 353,767.7 353.5,768.0 354,767.8 354.5,768.1 355,768.6 355.5,768.7 356,769.2 356.5,769.0 357,769.4 357.5,769.4 358,770.1 358.5,769.9 359,769.9 359.5,770.4 360,770.6 360.5,771.1 361,771.0 361.5,771.2 362,771.5 362.5,771.8 363,771.7 363.5,772.0 364,772.1 364.5,772.1 365,772.3 365.5,772.4 366,772.4 366.5,772.8 367,772.5 367.5,773.0 368,773.1 368.5,773.0 369,773.0 369.5,773.1 370,773.3 370.5,773.4 371,773.5 371.5,773.6 372,773.5 372.5,773.7 373,773.5 373.5,773.9 374,773.9 374.5,773.9 375,774.2 375.5,774.2 376,773.7 376.5,774.3 377,774.1 377.5,774.6 378,775.0 378.5,774.6 379,774.8 379.5,774.8 380,775.1 380.5,775.2 381,775.5 381.5,775.2 382,775.8 382.5,775.6 383,775.9 383.5,776.3 384,776.4 384.5,776.3 385,776.5 385.5,776.8 386,777.0 386.5,777.4 387,777.2 387.5,777.7 388,777.9 388.5,778.1 389,778.3 389.5,778.7 390,778.7 390.5,779.0 391,779.1 391.5,779.5 392,779.1 392.5,779.8 393,779.7 393.5,779.9 394,779.9 394.5,779.9 395,780.2 395.5,780.3 396,780.6 396.5,780.4 397,780.9 397.5,780.8 398,780.8 398.5,780.8 399,780.8 399.5,780.8 400,780.9 400.5,781.1 401,781.1 401.5,780.9 402,781.1 402.5,781.1 403,781.3 403.5,781.6 404,781.4 404.5,781.3 405,781.1 405.5,781.2 406,781.2 406.5,781.6 407,781.4 407.5,781.5 408,781.5 408.5,781.6 409,781.9 409.5,781.6 410,781.6 410.5,781.6 411,781.9 411.5,781.7 412,781.7 412.5,781.7 413,781.7 413.5,782.1 414,782.5 414.5,782.0 415,782.3 415.5,782.3 416,782.2 416.5,782.4 417,782.5 417.5,782.5 418,783.0 418.5,782.5 419,783.0 419.5,783.1 420,783.1 420.5,783.4 421,783.6 421.5,783.6 422,783.8 422.5,784.0 423,783.7 423.5,784.4 424,784.7 424.5,784.6 425,784.7 425.5,784.5 426,784.9 426.5,784.9 427,785.1 427.5,785.4 428,785.3 428.5,785.5 429,785.4 429.5,785.8 430,785.9 430.5,785.9 431,786.0 431.5,786.7 432,786.1 432.5,786.2 433,786.3 433.5,786.9 434,787.2 434.5,786.9 435,786.6 435.5,786.8 436,787.2 436.5,786.7 437,787.4 437.5,787.4 438,787.1 438.5,787.3 439,787.3 439.5,787.6 440,786.9 440.5,787.5 441,787.1 441.5,787.1 442,787.3 442.5,787.3 443,787.1 443.5,786.9 444,787.1 444.5,787.8 445,787.9 445.5,787.6 446,787.8 446.5,787.3 447,787.5 447.5,787.6 448,787.3 448.5,787.3 449,787.6 449.5,787.5 450,787.4 450.5,787.8 451,787.6 451.5,788.0 452,787.7 452.5,787.7 453,787.8 453.5,787.8 454,787.7 454.5,787.8 455,788.2 455.5,788.2 456,788.4 456.5,787.7 457,788.1 457.5,788.2 458,788.4 458.5,788.3 459,788.4 459.5,788.8 460,788.7 460.5,788.5 461,789.2 461.5,789.2 462,788.9 462.5,789.4 463,789.1 463.5,789.7 464,789.5 464.5,789.4 465,789.6 465.5,789.6 466,790.0 466.5,790.1 467,790.1 467.5,790.1 468,789.4 468.5,790.5 469,790.0 469.5,790.7 470,791.0 470.5,790.9 471,790.8 471.5,790.9 472,791.0 472.5,791.0 473,791.0 473.5,791.0 474,791.6 474.5,791.3 475,791.6 475.5,791.3 476,791.4 476.5,791.4 477,791.6 477.5,791.7 478,791.6 478.5,791.4 479,791.4 479.5,792.0 480,791.5 480.5,791.5 481,792.0 481.5,791.9 482,791.8 482.5,791.6 483,792.3 483.5,791.8 484,791.8 484.5,791.7 485,791.4 485.5,791.4 486,791.9 486.5,791.9 487,791.7 487.5,791.5 488,791.4 488.5,791.7 489,791.4 489.5,792.1 490,792.1 490.5,792.6 491,792.1 491.5,791.7 492,791.7 492.5,791.0 493,791.8 493.5,791.9 494,792.2 494.5,792.1 495,792.2 495.5,792.1 496,792.2 496.5,792.4 497,791.8 497.5,792.0 498,791.8 498.5,792.6 499,792.6 499.5,792.5 500,792.0 500.5,792.5 501,792.4 501.5,792.6 502,792.6 502.5,792.8 503,792.7 503.5,793.1 504,793.0 504.5,792.9 505,793.1 505.5,793.1 506,793.5 506.5,793.3 507,793.5 507.5,793.5 508,793.3 508.5,794.0 509,793.6 509.5,794.1 510,794.1 510.5,793.7 511,793.9 511.5,794.1 512,794.1 512.5,794.1 513,794.7 513.5,794.5 514,794.7 514.5,794.6 515,794.8 515.5,794.6 516,794.8 516.5,795.0 517,794.9 517.5,794.8 518,794.7 518.5,795.0 519,795.1 519.5,795.0 520,794.8 520.5,795.2 521,795.7 521.5,795.0 522,795.2 522.5,795.2 523,794.4 523.5,795.1 524,794.9 524.5,795.5 525,795.0 525.5,794.9 526,795.1 526.5,795.2 527,795.0 527.5,795.1 528,794.8 528.5,795.1 529,795.4 529.5,795.7 530,795.3 530.5,795.2 531,795.5 531.5,795.4 532,795.6 532.5,795.5 533,795.2 533.5,795.3 534,795.2 534.5,795.3 535,795.3 535.5,795.0 536,794.7 536.5,795.1 537,794.7 537.5,795.3 538,795.3 538.5,794.8 539,795.5 539.5,795.5 540,795.3 540.5,795.7 541,795.8 541.5,795.0 542,795.6 542.5,795.5 543,795.5 543.5,795.7 544,795.3 544.5,795.3 545,795.3 545.5,795.4 546,795.6 546.5,795.3 547,795.4 547.5,795.9 548,795.7 548.5,795.9 549,795.4 549.5,795.7 550,795.8 550.5,796.0 551,795.9 551.5,796.3 552,796.1 552.5,796.2 553,796.2 553.5,796.5 554,796.2 554.5,796.7 555,796.5 555.5,796.5 556,796.5 556.5,796.7 557,796.9 557.5,796.9 558,796.8 558.5,797.0 559,796.9 559.5,797.2 560,796.9 560.5,796.5 561,797.4 561.5,797.1 562,796.8 562.5,797.1 563,797.0 563.5,797.8 564,797.4 564.5,796.9 565,797.5 565.5,797.3 566,797.9 566.5,797.2 567,796.9 567.5,797.6 568,797.5 568.5,797.5 569,797.1 569.5,797.8 570,798.1 570.5,797.2 571,798.0 571.5,797.6 572,798.4 572.5,797.9 573,797.7 573.5,798.1 574,798.0 574.5,797.7 575,798.1 575.5,797.8 576,797.4 576.5,798.4 577,797.9 577.5,797.8 578,798.1 578.5,797.6 579,797.7 579.5,797.9 580,797.9 580.5,798.1 581,798.4 581.5,798.0 582,798.2 582.5,798.3 583,797.9 583.5,798.2 584,797.9 584.5,798.5 585,798.3 585.5,798.2 586,797.9 586.5,798.3 587,798.1 587.5,798.4 588,798.3 588.5,798.1 589,798.6 589.5,798.5 590,798.2 590.5,798.7 591,798.3 591.5,798.3 592,798.4 592.5,798.2 593,798.3 593.5,798.4 594,798.9 594.5,798.9 595,798.5 595.5,798.9 596,798.5 596.5,798.7 597,798.8 597.5,798.7 598,799.3 598.5,798.7 599,798.4 599.5,799.0 600,798.6 600.5,798.7 601,798.0 601.5,799.1 602,799.0 602.5,799.0 603,799.1 603.5,799.3 604,798.9 604.5,799.2 605,798.8 605.5,798.9 606,799.3 606.5,799.1 607,798.7 607.5,799.2 608,799.1 608.5,798.9 609,799.3 609.5,799.1 610,798.8 610.5,799.0 611,799.7 611.5,798.9 612,799.4 612.5,799.5 613,799.5 613.5,799.1 614,799.4 614.5,799.5 615,799.7 615.5,799.4 616,799.2 616.5,799.8 617,799.9 617.5,799.7 618,799.5 618.5,799.8 619,799.7 619.5,799.9 620,799.4 620.5,799.8 621,799.8 621.5,799.5 622,799.9 622.5,799.9 623,799.8 623.5,800.0 624,799.6 624.5,799.9 625,800.1 625.5,800.1 626,800.3 626.5,799.7 627,799.7 627.5,800.1 628,800.2 628.5,800.7 629,800.3 629.5,799.9 630,800.4 630.5,800.0 631,799.8 631.5,800.9 632,800.3 632.5,800.4 633,800.4 633.5,800.8 634,800.4 634.5,800.6 635,800.1 635.5,800.0 636,800.8 636.5,800.8 637,800.6 637.5,800.5 638,800.5 638.5,800.3 639,800.9 639.5,800.7 640,800.7 640.5,800.6 641,800.8 641.5,800.7 642,800.8 642.5,800.3 643,800.8 643.5,801.2 644,800.5 644.5,800.6 645,800.9 645.5,801.0 646,800.9 646.5,800.3 647,800.9 647.5,800.5 648,800.6 648.5,800.9 649,800.7 649.5,801.0 650,801.7 650.5,801.1 651,801.1 651.5,800.7 652,800.8 652.5,800.7 653,800.8 653.5,800.7 654,800.8 654.5,801.0 655,800.8 655.5,800.7 656,800.7 656.5,801.2 657,801.1 657.5,801.4 658,801.4 658.5,801.0 659,801.3 659.5,800.8 660,801.8 660.5,801.5 661,801.1 661.5,800.9 662,801.3 662.5,800.8 663,801.1 663.5,801.5 664,801.3 664.5,801.2 665,801.6 665.5,801.1 666,801.4 666.5,801.2 667,801.2 667.5,801.5 668,801.1 668.5,801.9 669,801.3 669.5,802.0 670,801.2 670.5,801.6 671,801.2 671.5,801.2 672,801.6 672.5,801.7 673,801.3 673.5,801.9 674,801.4 674.5,801.7 675,801.8 675.5,801.8 676,801.3 676.5,802.2 677,801.9 677.5,801.7 678,801.6 678.5,801.4 679,801.5 679.5,802.1 680,801.9 680.5,801.7 681,801.9 681.5,802.5 682,802.0 682.5,802.0 683,802.6 683.5,802.4 684,802.3 684.5,802.2 685,802.0 685.5,802.1 686,802.4 686.5,802.5 687,802.7 687.5,802.8 688,802.7 688.5,802.8 689,802.5 689.5,802.3 690,802.8 690.5,802.7 691,802.8 691.5,803.0 692,802.8 692.5,802.8 693,803.2 693.5,803.3 694,803.1 694.5,803.4 695,803.3 695.5,803.2 696,803.5 696.5,804.0 697,803.4 697.5,804.0 698,804.1 698.5,804.2 699,803.6 699.5,804.4 700,804.0 700.5,804.0 701,804.0 701.5,804.3 702,804.2 702.5,804.2 703,804.7 703.5,804.2 704,804.2 704.5,804.7 705,804.7 705.5,804.9 706,804.3 706.5,804.9 707,804.8 707.5,805.1 708,804.4 708.5,804.8 709,804.6 709.5,804.3 710,804.5 710.5,805.0 711,804.6 711.5,804.5 712,804.9 712.5,805.0 713,805.0 713.5,804.5 714,804.7 714.5,805.0 715,804.5 715.5,804.5 716,804.9 716.5,805.1 717,804.4 717.5,804.0 718,804.3 718.5,804.4 719,804.7 719.5,804.9 720,804.7 720.5,804.5 721,804.7 721.5,804.5 722,804.7 722.5,804.5 723,805.4 723.5,804.9 724,804.5 724.5,804.4 725,804.6 725.5,804.3 726,804.5 726.5,804.5 727,804.9 727.5,804.6 728,804.5 728.5,804.4 729,804.4 729.5,804.7 730,804.6 730.5,805.0 731,804.5 731.5,805.0 732,804.8 732.5,804.7 733,804.2 733.5,804.3 734,804.9 734.5,805.0 735,804.7 735.5,804.8 736,804.5 736.5,804.5 737,804.4 737.5,804.8 738,804.7 738.5,804.5 739,804.5 739.5,804.7 740,804.6 740.5,804.3 741,804.9 741.5,804.5 742,804.5 742.5,804.8 743,804.7 743.5,804.4 744,804.5 744.5,804.1 745,804.2 745.5,803.8 746,804.7 746.5,803.9 747,804.5 747.5,804.1 748,804.1 748.5,804.3 749,804.4 749.5,804.5 750,804.8 750.5,804.4 751,804.5 751.5,804.1 752,804.5 752.5,804.4 753,804.2 753.5,804.3 754,804.3 754.5,804.4 755,804.5 755.5,804.3 756,804.3 756.5,804.7 757,804.1 757.5,804.5 758,805.1 758.5,804.0 759,804.6 759.5,805.0 760,804.5 760.5,805.6 761,804.4 761.5,805.5 762,805.6 762.5,805.5 763,805.3 763.5,805.5 764,805.2 764.5,805.7 765,805.3 765.5,805.6 766,806.0 766.5,805.5 767,805.8 767.5,806.0 768,805.7 768.5,806.4 769,806.3 769.5,805.9 770,806.3 770.5,806.2 771,806.3 771.5,806.5 772,806.4 772.5,806.9 773,806.5 773.5,807.0 774,806.8 774.5,807.0 775,806.7 775.5,806.8 776,806.3 776.5,807.3 777,807.6 777.5,808.3 778,807.8 778.5,807.2 779,807.0 779.5,807.3 780,807.1 780.5,808.0 781,807.6 781.5,806.6 782,806.6 782.5,807.8 783,807.1 783.5,806.8 784,807.5 784.5,806.5 785,806.5 785.5,806.4 786,805.4 786.5,807.0 787,805.7 787.5,806.0 788,805.8 788.5,806.6 789,806.0 789.5,806.0 790,804.9 790.5,805.7 791,804.8 791.5,805.8 792,805.8 792.5,805.4 793,806.6 793.5,805.6 794,805.6 794.5,805.3 795,805.0 795.5,805.7 796,805.7 796.5,804.2 797,805.6 797.5,805.3 798,805.5 798.5,805.2 799,804.2 799.5,804.2 800,806.0 800.5,805.0 801,804.0 801.5,805.1 802,804.6 802.5,803.7 803,803.5 803.5,803.9 804,805.0 804.5,804.8 805,804.6 805.5,804.9 806,805.1 806.5,803.5 807,804.6 807.5,804.2 808,804.0 808.5,804.4 809,804.6 809.5,804.6 810,803.8 810.5,804.4 811,805.9 811.5,804.1 812,803.7 812.5,804.9 813,805.1 813.5,805.0 814,804.0 814.5,805.3 815,804.3 815.5,804.1 816,804.5 816.5,804.9 817,805.1 817.5,805.2 818,805.1 818.5,805.3 819,805.3 819.5,805.5 820,805.2 820.5,805.4 821,805.6 821.5,805.6 822,805.7 822.5,805.8 823,805.9 823.5,806.0 824,806.1 824.5,806.1 825,806.3 825.5,806.4 826,806.4 826.5,806.5 827,806.6 827.5,806.7 828,806.7 828.5,806.8 829,806.8 829.5,806.9 830,806.9 830.5,807.0 831,807.0 831.5,807.0 832,807.0 832.5,807.0 833,807.1 833.5,807.1 834,807.1 834.5,807.3 835,807.2 835.5,807.2 836,807.3 836.5,807.3 837,807.4 837.5,807.4 838,807.4 838.5,807.4 839,807.4 839.5,807.5 840,807.6 840.5,807.4 841,807.6 841.5,807.6 842,807.6 842.5,807.6 843,807.7 843.5,807.7 844,807.8 844.5,807.7 845,807.7 845.5,807.8 846,807.8 846.5,807.9 847,807.8 847.5,807.9 848,807.9 848.5,807.9 849,807.9 849.5,807.9 850,807.9 850.5,808.0 851,808.0 851.5,808.0 852,808.0 852.5,808.0 853,808.1 853.5,808.1 854,808.1 854.5,808.2 855,808.1 855.5,808.3 856,808.2 856.5,808.2 857,808.2 857.5,808.1 858,808.3 858.5,808.3 859,808.4 859.5,808.3 860,808.4 860.5,808.4 861,808.4 861.5,808.3 862,808.4 862.5,808.4 863,808.5 863.5,808.5 864,808.5 864.5,808.6 865,808.6 865.5,808.6 866,808.7 866.5,808.7 867,808.7 867.5,808.6 868,808.7 868.5,808.8 869,808.8 869.5,808.8 870,808.8 870.5,808.8 871,808.9 871.5,808.9 872,808.9 872.5,809.0 873,809.0 873.5,809.0 874,809.0 874.5,809.0 875,809.1 875.5,809.1 876,809.1 876.5,809.1 877,809.1 877.5,809.1 878,809.3 878.5,809.2 879,809.3 879.5,809.2 880,809.3 880.5,809.4 881,809.3 881.5,809.3 882,809.4 882.5,809.4 883,809.5 883.5,809.5 884,809.5 884.5,809.6 885,809.6 885.5,809.6 886,809.6 886.5,809.6 887,809.7 887.5,809.7 888,809.7 888.5,809.7 889,809.7 889.5,809.7 890,809.8 890.5,809.8 891,809.9 891.5,809.9 892,809.9 892.5,810.0 893,810.0 893.5,809.9 894,810.0 894.5,810.0 895,810.0 895.5,810.1 896,810.1 896.5,810.1 897,810.2 897.5,810.2 898,810.2 898.5,810.2 899,810.2 899.5,810.3 900,810.3 900.5,810.4 901,810.4 901.5,810.4 902,810.4 902.5,810.4 903,810.5 903.5,810.5 904,810.6 904.5,810.6 905,810.7 905.5,810.7 906,810.7 906.5,810.8 907,810.8 907.5,810.8 908,810.9 908.5,810.8 909,810.9 909.5,811.0 910,811.0 910.5,811.0 911,811.0 911.5,811.0 912,811.1 912.5,811.1 913,811.1 913.5,811.2 914,811.3 914.5,811.2 915,811.3 915.5,811.3 916,811.3 916.5,811.3 917,811.3 917.5,811.4 918,811.3 918.5,811.4 919,811.4 919.5,811.4 920,811.4 920.5,811.4 921,811.5 921.5,811.4 922,811.4 922.5,811.4 923,811.4 923.5,811.3 924,811.3 924.5,811.1 925,810.9 925.5,810.8 926,810.6 926.5,810.3 927,810.1 927.5,809.9 928,809.7 928.5,809.5 929,809.4 929.5,809.3 930,809.3 930.5,809.3 931,809.3" fill="none" stroke="#ff0000" stroke-width="3.15" stroke-linejoin="round" stroke-linecap="round"/>
<path d="M213.6,465.8 213.85,466.7 214.1,467.4 214.35,468.7 214.6,468.3 214.85,471.0 215.1,472.8 215.35,472.7 215.6,474.8 215.85,473.1 216.1,472.7 216.35,475.6 216.6,480.6 216.85,481.3 217.1,479.0 217.35,483.7 217.6,481.3 217.85,486.4 218.1,485.1 218.35,484.1 218.6,487.9 218.85,485.4 219.1,486.0 219.35,485.9 219.6,490.7 219.85,491.1 220.1,492.0 220.35,492.3 220.6,497.3 220.85,494.3 221.1,494.6 221.35,499.8 221.6,501.1 221.85,499.7 222.1,496.4 222.35,499.7 222.6,503.0 222.85,502.8 223.1,506.6 223.35,501.9 223.6,506.6 223.85,505.0 224.1,509.6 224.35,507.8 224.6,510.7 224.85,508.4 225.1,507.9 225.35,509.2 225.6,511.0 225.85,511.0 226.1,515.8 226.35,516.8 226.6,515.7 226.85,514.3 227.1,516.6 227.35,516.4 227.6,520.9 227.85,519.7 228.1,520.8 228.35,520.0 228.6,518.1 228.85,520.9 229.1,521.1 229.35,524.4 229.6,524.7 229.85,523.9 230.1,525.4 230.35,529.3 230.6,525.9 230.85,526.7 231.1,528.6 231.35,528.6 231.6,529.8 231.85,532.0 232.1,534.7 232.35,529.8 232.6,533.3 232.85,534.1 233.1,534.7 233.35,535.2 233.6,535.7 233.85,538.5 234.1,536.9 234.35,538.1 234.6,539.0 234.85,539.9 235.1,540.1 235.35,542.6 235.6,541.7 235.85,542.7 236.1,543.0 236.35,542.3 236.6,543.2 236.85,543.5 237.1,546.0 237.35,545.3 237.6,545.5 237.85,547.9 238.1,548.9 238.35,546.5 238.6,551.6 238.85,550.0 239.1,550.4 239.35,552.5 239.6,551.8 239.85,551.5 240.1,555.6 240.35,552.1 240.6,553.9 240.85,555.6 241.1,553.8 241.35,555.6 241.6,556.8 241.85,559.9 242.1,556.3 242.35,558.0 242.6,559.5 242.85,559.3 243.1,558.2 243.35,561.0 243.6,561.2 243.85,562.4 244.1,564.0 244.35,564.5 244.6,564.3 244.85,564.9 245.1,563.4 245.35,565.7 245.6,567.1 245.85,566.8 246.1,568.5 246.35,567.6 246.6,572.7 246.85,574.7 247.1,570.9 247.35,573.2 247.6,572.9 247.85,576.4 248.1,575.7 248.35,575.9 248.6,576.2 248.85,577.6 249.1,576.5 249.35,580.1 249.6,578.5 249.85,581.3 250.1,581.3 250.35,583.4 250.6,582.4 250.85,584.4 251.1,582.5 251.35,584.9 251.6,584.5 251.85,585.4 252.1,585.7 252.35,587.0 252.6,584.7 252.85,587.3 253.1,586.1 253.35,588.8 253.6,586.5 253.85,587.7 254.1,587.6 254.35,590.5 254.6,588.6 254.85,590.0 255.1,589.9 255.35,589.3 255.6,590.7 255.85,591.8 256.1,591.5 256.35,592.7 256.6,592.1 256.85,592.7 257.1,592.8 257.35,593.8 257.6,595.6 257.85,594.7 258.1,595.0 258.35,594.6 258.6,594.9 258.85,597.8 259.1,595.4 259.35,596.1 259.6,597.7 259.85,597.8 260.1,601.6 260.35,596.4 260.6,600.7 260.85,601.8 261.1,599.9 261.35,601.2 261.6,603.5 261.85,605.9 262.1,602.8 262.35,602.5 262.6,607.0 262.85,608.6 263.1,606.4 263.35,604.3 263.6,610.5 263.85,608.7 264.1,611.4 264.35,610.3 264.6,610.5 264.85,611.1 265.1,614.5 265.35,615.0 265.6,610.7 265.85,613.0 266.1,617.2 266.35,615.0 266.6,614.3 266.85,616.6 267.1,617.0 267.35,617.5 267.6,617.6 267.85,618.3 268.1,618.6 268.35,619.9 268.6,619.2 268.85,620.2 269.1,620.8 269.35,622.7 269.6,622.2 269.85,622.2 270.1,623.2 270.35,623.5 270.6,624.6 270.85,624.4 271.1,626.1 271.35,626.1 271.6,625.2 271.85,625.3 272.1,626.9 272.35,627.0 272.6,626.8 272.85,626.0 273.1,626.0 273.35,628.6 273.6,629.5 273.85,630.0 274.1,628.3 274.35,631.2 274.6,630.0 274.85,631.5 275.1,632.0 275.35,631.2 275.6,631.9 275.85,630.7 276.1,632.6 276.35,632.1 276.6,635.2 276.85,635.3 277.1,636.8 277.35,636.7 277.6,636.1 277.85,637.8 278.1,637.5 278.35,639.1 278.6,639.3 278.85,638.4 279.1,640.0 279.35,640.6 279.6,640.7 279.85,642.5 280.1,643.8 280.35,642.1 280.6,642.6 280.85,641.2 281.1,643.7 281.35,643.8 281.6,642.7 281.85,645.3 282.1,645.9 282.35,645.2 282.6,645.8 282.85,645.7 283.1,647.4 283.35,646.1 283.6,647.3 283.85,649.2 284.1,648.2 284.35,648.8 284.6,648.7 284.85,648.3 285.1,649.4 285.35,650.3 285.6,648.6 285.85,650.9 286.1,652.4 286.35,652.5 286.6,649.1 286.85,650.3 287.1,649.8 287.35,653.9 287.6,653.6 287.85,654.1 288.1,652.3 288.35,652.3 288.6,654.4 288.85,654.9 289.1,654.0 289.35,655.9 289.6,657.1 289.85,657.1 290.1,655.9 290.35,655.1 290.6,658.3 290.85,659.5 291.1,659.5 291.35,660.0 291.6,660.2 291.85,662.9 292.1,662.4 292.35,663.3 292.6,662.4 292.85,663.5 293.1,665.1 293.35,664.1 293.6,664.2 293.85,666.0 294.1,668.6 294.35,667.6 294.6,669.7 294.85,667.8 295.1,667.8 295.35,666.5 295.6,667.8 295.85,670.7 296.1,669.2 296.35,669.8 296.6,669.8 296.85,668.9 297.1,668.6 297.35,669.1 297.6,669.9 297.85,669.7 298.1,669.8 298.35,669.3 298.6,668.1 298.85,668.8 299.1,667.9 299.35,670.7 299.6,666.4 299.85,669.1 300.1,672.8 300.35,669.0 300.6,668.0 300.85,669.6 301.1,671.5 301.35,669.6 301.6,670.7 301.85,670.1 302.1,669.5 302.35,674.5 302.6,670.3 302.85,669.6 303.1,670.2 303.35,670.7 303.6,670.8 303.85,671.0 304.1,670.9 304.35,670.4 304.6,671.3 304.85,671.0 305,671.1 305.5,670.9 306,671.5 306.5,671.8 307,672.3 307.5,672.1 308,673.0 308.5,673.4 309,673.2 309.5,673.8 310,674.1 310.5,675.1 311,674.1 311.5,675.4 312,675.2 312.5,676.1 313,677.0 313.5,676.8 314,677.4 314.5,677.4 315,678.9 315.5,678.8 316,679.3 316.5,678.7 317,679.1 317.5,680.4 318,680.3 318.5,680.6 319,681.3 319.5,681.0 320,682.3 320.5,682.3 321,682.9 321.5,682.8 322,683.7 322.5,683.6 323,684.7 323.5,685.2 324,685.5 324.5,685.7 325,686.1 325.5,685.1 326,687.0 326.5,686.9 327,687.4 327.5,687.7 328,687.6 328.5,688.3 329,689.2 329.5,689.8 330,689.4 330.5,689.8 331,690.6 331.5,690.6 332,691.4 332.5,691.4 333,691.6 333.5,692.3 334,692.7 334.5,692.6 335,693.4 335.5,693.5 336,694.1 336.5,694.2 337,694.3 337.5,695.0 338,695.4 338.5,695.9 339,696.2 339.5,696.4 340,696.6 340.5,696.9 341,697.3 341.5,697.5 342,697.9 342.5,697.9 343,698.7 343.5,699.0 344,699.8 344.5,699.8 345,700.0 345.5,700.5 346,700.5 346.5,701.0 347,701.1 347.5,702.0 348,702.2 348.5,702.2 349,702.8 349.5,703.3 350,703.5 350.5,703.8 351,704.0 351.5,704.3 352,704.8 352.5,705.2 353,705.3 353.5,705.6 354,706.2 354.5,706.2 355,706.8 355.5,707.0 356,707.4 356.5,707.8 357,708.0 357.5,708.2 358,708.3 358.5,708.6 359,709.0 359.5,709.5 360,709.7 360.5,710.1 361,710.0 361.5,710.3 362,710.7 362.5,710.8 363,711.0 363.5,711.1 364,711.7 364.5,711.6 365,712.1 365.5,712.0 366,712.6 366.5,712.5 367,713.1 367.5,712.9 368,713.3 368.5,713.8 369,713.7 369.5,714.1 370,714.3 370.5,714.2 371,714.9 371.5,715.1 372,715.1 372.5,715.6 373,715.6 373.5,715.8 374,716.2 374.5,716.3 375,717.0 375.5,716.6 376,717.2 376.5,717.5 377,717.2 377.5,717.5 378,718.1 378.5,718.1 379,718.5 379.5,718.8 380,718.8 380.5,718.9 381,718.8 381.5,719.5 382,719.6 382.5,720.0 383,720.2 383.5,720.2 384,720.9 384.5,721.0 385,721.2 385.5,721.1 386,721.5 386.5,721.7 387,722.0 387.5,722.1 388,722.6 388.5,722.8 389,723.1 389.5,723.2 390,723.7 390.5,723.8 391,723.6 391.5,724.2 392,724.6 392.5,725.0 393,725.1 393.5,725.3 394,725.5 394.5,726.0 395,726.0 395.5,726.3 396,726.5 396.5,726.9 397,727.0 397.5,727.1 398,727.7 398.5,727.7 399,728.0 399.5,728.3 400,728.6 400.5,728.8 401,728.7 401.5,729.0 402,729.0 402.5,729.6 403,729.6 403.5,729.9 404,729.8 404.5,729.7 405,730.5 405.5,730.4 406,730.6 406.5,730.8 407,731.0 407.5,731.2 408,731.0 408.5,731.6 409,731.5 409.5,731.6 410,732.1 410.5,732.2 411,732.1 411.5,732.0 412,732.5 412.5,732.7 413,732.8 413.5,732.8 414,733.0 414.5,733.1 415,733.4 415.5,733.7 416,733.9 416.5,733.8 417,734.1 417.5,734.3 418,734.2 418.5,734.4 419,735.0 419.5,734.8 420,735.0 420.5,735.0 421,735.2 421.5,735.1 422,735.5 422.5,735.8 423,736.1 423.5,736.1 424,736.1 424.5,736.2 425,736.2 425.5,736.4 426,736.7 426.5,736.6 427,737.0 427.5,736.8 428,736.9 428.5,737.1 429,737.1 429.5,737.3 430,737.9 430.5,737.8 431,738.0 431.5,738.4 432,738.5 432.5,738.2 433,738.8 433.5,738.7 434,738.7 434.5,739.0 435,738.6 435.5,738.9 436,739.2 436.5,739.5 437,739.4 437.5,739.6 438,740.0 438.5,740.3 439,740.2 439.5,740.5 440,740.2 440.5,740.3 441,740.6 441.5,740.6 442,740.6 442.5,741.3 443,741.0 443.5,740.9 444,741.4 444.5,741.9 445,741.5 445.5,742.0 446,741.7 446.5,741.8 447,741.9 447.5,742.1 448,742.8 448.5,742.1 449,742.9 449.5,742.4 450,742.7 450.5,743.1 451,743.2 451.5,743.2 452,742.8 452.5,743.5 453,743.2 453.5,744.3 454,743.7 454.5,743.9 455,743.7 455.5,744.0 456,743.9 456.5,744.6 457,744.4 457.5,744.7 458,744.5 458.5,744.6 459,745.2 459.5,744.7 460,744.6 460.5,745.3 461,745.0 461.5,745.3 462,745.8 462.5,745.4 463,746.0 463.5,745.7 464,746.3 464.5,746.4 465,746.0 465.5,746.2 466,746.2 466.5,746.5 467,746.9 467.5,746.3 468,747.0 468.5,746.5 469,746.8 469.5,746.6 470,747.7 470.5,747.3 471,747.4 471.5,747.3 472,747.8 472.5,747.1 473,747.7 473.5,748.4 474,747.8 474.5,748.0 475,748.3 475.5,748.0 476,748.3 476.5,748.6 477,748.5 477.5,748.6 478,748.5 478.5,748.8 479,748.8 479.5,749.2 480,749.1 480.5,749.0 481,748.5 481.5,749.4 482,749.5 482.5,749.1 483,748.9 483.5,749.2 484,749.9 484.5,749.4 485,749.7 485.5,749.9 486,750.3 486.5,750.1 487,750.1 487.5,750.1 488,750.7 488.5,750.7 489,750.5 489.5,750.2 490,750.5 490.5,750.9 491,750.7 491.5,751.2 492,751.2 492.5,751.3 493,751.5 493.5,751.5 494,751.3 494.5,751.6 495,752.3 495.5,751.6 496,751.9 496.5,752.4 497,752.2 497.5,752.1 498,752.1 498.5,752.7 499,752.9 499.5,753.1 500,752.9 500.5,753.3 501,752.9 501.5,753.3 502,753.2 502.5,753.5 503,753.8 503.5,753.9 504,753.5 504.5,754.2 505,753.9 505.5,753.8 506,754.1 506.5,753.9 507,754.4 507.5,754.5 508,754.5 508.5,754.7 509,754.6 509.5,754.8 510,754.5 510.5,754.9 511,754.7 511.5,754.9 512,755.0 512.5,755.2 513,754.7 513.5,754.8 514,755.2 514.5,755.4 515,755.5 515.5,755.6 516,755.8 516.5,755.6 517,755.5 517.5,755.3 518,755.4 518.5,755.5 519,755.7 519.5,755.8 520,755.7 520.5,755.7 521,756.0 521.5,755.9 522,756.0 522.5,756.0 523,755.8 523.5,755.7 524,756.1 524.5,756.1 525,756.0 525.5,756.0 526,756.7 526.5,756.0 527,756.2 527.5,756.3 528,756.0 528.5,756.3 529,756.8 529.5,756.6 530,756.6 530.5,756.6 531,756.6 531.5,756.8 532,756.6 532.5,756.6 533,756.7 533.5,757.0 534,756.9 534.5,757.0 535,756.4 535.5,757.3 536,757.7 536.5,757.5 537,757.1 537.5,757.0 538,757.4 538.5,757.1 539,757.6 539.5,757.4 540,757.9 540.5,758.0 541,757.2 541.5,757.9 542,757.7 542.5,757.6 543,757.9 543.5,758.1 544,758.5 544.5,757.9 545,758.7 545.5,759.0 546,758.7 546.5,758.8 547,758.7 547.5,758.5 548,759.0 548.5,759.1 549,759.2 549.5,759.8 550,759.4 550.5,759.4 551,759.8 551.5,759.1 552,759.2 552.5,759.5 553,759.5 553.5,759.9 554,759.7 554.5,760.3 555,760.3 555.5,760.2 556,760.0 556.5,760.3 557,760.4 557.5,760.0 558,760.4 558.5,760.6 559,760.5 559.5,760.9 560,760.9 560.5,760.4 561,760.7 561.5,760.5 562,760.9 562.5,760.6 563,761.1 563.5,761.0 564,761.2 564.5,760.9 565,760.6 565.5,761.5 566,761.0 566.5,761.4 567,761.2 567.5,761.3 568,761.6 568.5,761.3 569,761.6 569.5,760.9 570,761.5 570.5,761.3 571,761.3 571.5,761.4 572,761.5 572.5,761.9 573,761.0 573.5,761.5 574,761.3 574.5,761.8 575,761.5 575.5,761.7 576,761.5 576.5,761.8 577,761.9 577.5,761.6 578,761.8 578.5,761.4 579,761.9 579.5,762.1 580,761.7 580.5,762.2 581,761.4 581.5,761.5 582,761.7 582.5,761.9 583,762.1 583.5,762.1 584,762.2 584.5,762.4 585,762.2 585.5,762.0 586,762.1 586.5,763.0 587,761.9 587.5,762.5 588,763.0 588.5,762.8 589,762.6 589.5,762.8 590,763.1 590.5,763.3 591,762.8 591.5,763.3 592,763.2 592.5,763.5 593,763.7 593.5,763.3 594,763.1 594.5,763.6 595,764.0 595.5,763.8 596,763.8 596.5,764.4 597,763.6 597.5,764.1 598,763.8 598.5,764.0 599,764.1 599.5,764.5 600,764.0 600.5,764.1 601,763.9 601.5,764.5 602,764.3 602.5,764.6 603,764.2 603.5,764.4 604,764.8 604.5,764.6 605,764.8 605.5,764.8 606,764.6 606.5,764.3 607,765.0 607.5,764.8 608,765.1 608.5,764.3 609,764.5 609.5,764.4 610,764.7 610.5,765.2 611,765.1 611.5,765.0 612,765.1 612.5,765.3 613,765.0 613.5,765.2 614,765.2 614.5,764.6 615,765.1 615.5,765.5 616,765.1 616.5,765.2 617,765.1 617.5,765.2 618,765.6 618.5,765.3 619,765.1 619.5,764.6 620,765.2 620.5,764.9 621,765.0 621.5,765.7 622,765.7 622.5,765.0 623,765.8 623.5,765.7 624,765.4 624.5,765.8 625,765.2 625.5,765.4 626,765.4 626.5,765.5 627,766.0 627.5,765.5 628,765.6 628.5,765.7 629,766.0 629.5,765.9 630,766.2 630.5,765.9 631,765.8 631.5,766.0 632,766.2 632.5,766.0 633,766.3 633.5,766.8 634,766.2 634.5,766.4 635,766.8 635.5,766.3 636,766.3 636.5,766.3 637,766.7 637.5,766.8 638,766.7 638.5,766.8 639,767.2 639.5,767.1 640,766.6 640.5,767.0 641,767.1 641.5,767.3 642,767.1 642.5,767.0 643,767.1 643.5,766.8 644,767.3 644.5,767.2 645,767.5 645.5,767.2 646,767.4 646.5,767.3 647,767.3 647.5,767.8 648,767.6 648.5,767.9 649,767.5 649.5,767.9 650,767.5 650.5,767.8 651,767.9 651.5,768.2 652,768.1 652.5,768.1 653,768.4 653.5,768.3 654,768.4 654.5,768.5 655,768.3 655.5,768.3 656,768.5 656.5,768.4 657,768.6 657.5,768.8 658,768.8 658.5,768.5 659,768.3 659.5,768.7 660,768.7 660.5,769.1 661,768.7 661.5,768.8 662,769.1 662.5,768.8 663,768.9 663.5,769.4 664,769.4 664.5,769.2 665,769.2 665.5,768.9 666,769.3 666.5,769.2 667,769.3 667.5,769.2 668,769.3 668.5,769.3 669,769.5 669.5,769.8 670,769.6 670.5,769.1 671,769.3 671.5,769.2 672,769.4 672.5,769.8 673,769.8 673.5,769.6 674,769.9 674.5,769.7 675,769.6 675.5,769.6 676,769.8 676.5,770.4 677,769.8 677.5,770.5 678,770.6 678.5,770.3 679,770.3 679.5,770.3 680,770.5 680.5,770.7 681,770.6 681.5,770.9 682,771.1 682.5,770.9 683,771.0 683.5,771.0 684,771.1 684.5,770.8 685,771.3 685.5,771.3 686,771.1 686.5,771.9 687,771.2 687.5,771.3 688,771.7 688.5,771.2 689,771.5 689.5,771.4 690,771.6 690.5,771.9 691,772.1 691.5,772.4 692,772.3 692.5,772.5 693,772.4 693.5,772.2 694,772.6 694.5,772.3 695,772.3 695.5,772.9 696,772.8 696.5,772.7 697,772.8 697.5,772.9 698,772.4 698.5,772.8 699,772.5 699.5,772.9 700,772.7 700.5,773.3 701,773.1 701.5,772.8 702,773.1 702.5,772.8 703,773.2 703.5,773.3 704,773.3 704.5,772.8 705,773.2 705.5,773.5 706,773.5 706.5,773.7 707,773.1 707.5,773.6 708,773.4 708.5,773.6 709,773.7 709.5,773.8 710,773.5 710.5,773.8 711,773.5 711.5,773.4 712,774.0 712.5,773.8 713,773.5 713.5,773.7 714,774.0 714.5,774.4 715,774.3 715.5,774.3 716,773.6 716.5,774.1 717,774.3 717.5,774.3 718,774.3 718.5,774.2 719,774.7 719.5,774.7 720,774.3 720.5,774.1 721,775.0 721.5,774.3 722,774.8 722.5,775.0 723,774.3 723.5,774.7 724,774.5 724.5,774.8 725,774.8 725.5,775.2 726,774.9 726.5,774.8 727,775.1 727.5,774.8 728,774.8 728.5,775.5 729,774.7 729.5,774.8 730,775.0 730.5,774.7 731,774.5 731.5,775.3 732,774.9 732.5,775.0 733,775.1 733.5,774.9 734,774.9 734.5,775.3 735,775.9 735.5,775.5 736,775.5 736.5,775.0 737,775.4 737.5,775.1 738,775.6 738.5,775.4 739,775.5 739.5,775.5 740,775.4 740.5,775.2 741,775.7 741.5,775.3 742,775.4 742.5,775.6 743,775.5 743.5,775.8 744,776.0 744.5,775.8 745,775.9 745.5,775.8 746,776.1 746.5,775.4 747,776.0 747.5,775.7 748,775.6 748.5,776.0 749,775.9 749.5,776.2 750,776.3 750.5,775.5 751,776.1 751.5,776.6 752,776.4 752.5,776.5 753,776.2 753.5,775.9 754,776.0 754.5,776.5 755,776.5 755.5,776.1 756,776.3 756.5,776.4 757,776.0 757.5,776.3 758,776.9 758.5,777.0 759,776.5 759.5,777.0 760,776.4 760.5,776.4 761,776.0 761.5,776.9 762,776.6 762.5,777.3 763,776.8 763.5,776.8 764,776.3 764.5,777.2 765,776.7 765.5,776.8 766,776.3 766.5,777.2 767,777.2 767.5,776.9 768,777.1 768.5,777.2 769,777.4 769.5,777.2 770,777.7 770.5,777.2 771,777.2 771.5,777.3 772,776.8 772.5,777.3 773,777.8 773.5,777.6 774,777.4 774.5,777.7 775,777.2 775.5,777.6 776,778.0 776.5,778.2 777,777.3 777.5,778.4 778,779.0 778.5,777.6 779,778.3 779.5,776.9 780,776.7 780.5,778.2 781,777.9 781.5,778.0 782,777.5 782.5,777.6 783,778.2 783.5,778.7 784,777.5 784.5,776.6 785,778.4 785.5,777.9 786,777.9 786.5,777.5 787,778.8 787.5,777.4 788,777.6 788.5,776.1 789,776.8 789.5,776.7 790,777.1 790.5,777.3 791,776.6 791.5,778.0 792,776.3 792.5,776.6 793,777.0 793.5,776.1 794,777.2 794.5,777.3 795,776.7 795.5,778.1 796,777.0 796.5,777.2 797,776.5 797.5,776.1 798,776.8 798.5,777.1 799,777.1 799.5,777.9 800,776.1 800.5,777.0 801,776.7 801.5,778.7 802,777.7 802.5,777.8 803,777.6 803.5,778.9 804,778.2 804.5,778.7 805,777.5 805.5,779.5 806,779.1 806.5,779.3 807,779.8 807.5,779.0 808,779.1 808.5,779.7 809,779.6 809.5,779.2 810,779.4 810.5,779.1 811,779.9 811.5,780.1 812,779.6 812.5,780.7 813,778.7 813.5,779.5 814,780.7 814.5,779.5 815,778.8 815.5,780.7 816,780.2 816.5,779.6 817,780.1 817.5,779.7 818,779.8 818.5,780.0 819,780.0 819.5,779.9 820,780.0 820.5,780.1 821,780.2 821.5,780.2 822,780.2 822.5,780.2 823,780.2 823.5,780.2 824,780.3 824.5,780.4 825,780.4 825.5,780.4 826,780.5 826.5,780.4 827,780.5 827.5,780.5 828,780.6 828.5,780.6 829,780.6 829.5,780.7 830,780.7 830.5,780.7 831,780.8 831.5,781.0 832,780.9 832.5,780.9 833,780.9 833.5,781.0 834,780.9 834.5,781.0 835,781.1 835.5,781.1 836,781.2 836.5,781.2 837,781.2 837.5,781.3 838,781.3 838.5,781.3 839,781.4 839.5,781.5 840,781.5 840.5,781.5 841,781.5 841.5,781.6 842,781.6 842.5,781.7 843,781.8 843.5,781.8 844,781.8 844.5,781.9 845,782.0 845.5,782.0 846,781.9 846.5,782.0 847,782.1 847.5,782.2 848,782.1 848.5,782.2 849,782.2 849.5,782.4 850,782.4 850.5,782.4 851,782.4 851.5,782.5 852,782.5 852.5,782.5 853,782.6 853.5,782.6 854,782.6 854.5,782.7 855,782.7 855.5,782.8 856,782.8 856.5,782.9 857,783.0 857.5,783.0 858,783.0 858.5,783.1 859,783.0 859.5,783.1 860,783.2 860.5,783.2 861,783.3 861.5,783.3 862,783.3 862.5,783.3 863,783.4 863.5,783.4 864,783.4 864.5,783.5 865,783.5 865.5,783.6 866,783.6 866.5,783.6 867,783.6 867.5,783.7 868,783.8 868.5,783.7 869,783.8 869.5,783.8 870,783.8 870.5,783.9 871,784.0 871.5,783.9 872,784.0 872.5,784.1 873,784.1 873.5,784.1 874,784.2 874.5,784.2 875,784.3 875.5,784.3 876,784.3 876.5,784.3 877,784.3 877.5,784.3 878,784.4 878.5,784.5 879,784.4 879.5,784.5 880,784.5 880.5,784.6 881,784.6 881.5,784.6 882,784.7 882.5,784.7 883,784.7 883.5,784.7 884,784.9 884.5,784.8 885,784.8 885.5,784.9 886,784.9 886.5,784.9 887,785.0 887.5,785.1 888,784.9 888.5,785.1 889,785.1 889.5,785.1 890,785.1 890.5,785.1 891,785.2 891.5,785.3 892,785.2 892.5,785.3 893,785.3 893.5,785.4 894,785.4 894.5,785.5 895,785.5 895.5,785.5 896,785.5 896.5,785.5 897,785.6 897.5,785.6 898,785.7 898.5,785.6 899,785.7 899.5,785.8 900,785.7 900.5,785.8 901,786.0 901.5,786.0 902,785.9 902.5,786.1 903,786.1 903.5,786.1 904,786.1 904.5,786.2 905,786.2 905.5,786.2 906,786.3 906.5,786.3 907,786.4 907.5,786.4 908,786.3 908.5,786.4 909,786.5 909.5,786.5 910,786.6 910.5,786.6 911,786.7 911.5,786.6 912,786.7 912.5,786.7 913,786.7 913.5,786.9 914,786.7 914.5,786.8 915,786.9 915.5,786.9 916,787.0 916.5,786.9 917,787.0 917.5,787.1 918,787.0 918.5,787.0 919,787.0 919.5,787.0 920,787.1 920.5,787.1 921,787.1 921.5,787.1 922,787.1 922.5,787.0 923,787.1 923.5,787.0 924,786.9 924.5,786.7 925,786.4 925.5,786.2 926,786.0 926.5,785.7 927,785.5 927.5,785.2 928,785.1 928.5,785.0 929,785.0 929.5,785.1 930,785.0 930.5,785.0 931,785.0" fill="none" stroke="#0000ff" stroke-width="3.15" stroke-linejoin="round" stroke-linecap="round"/>
<path d="M213.6,247.1 213.85,251.2 214.1,256.0 214.35,261.0 214.6,264.7 214.85,271.4 215.1,276.8 215.35,279.9 215.6,289.4 215.85,296.3 216.1,298.6 216.35,298.6 216.6,306.5 216.85,304.3 217.1,305.4 217.35,308.1 217.6,307.8 217.85,312.9 218.1,313.2 218.35,314.9 218.6,314.4 218.85,312.7 219.1,314.7 219.35,317.2 219.6,315.8 219.85,322.2 220.1,317.6 220.35,317.8 220.6,321.9 220.85,322.2 221.1,321.5 221.35,322.1 221.6,324.9 221.85,327.1 222.1,328.2 222.35,326.9 222.6,330.0 222.85,332.3 223.1,333.5 223.35,325.6 223.6,332.3 223.85,333.9 224.1,336.5 224.35,338.7 224.6,341.8 224.85,342.2 225.1,341.6 225.35,343.0 225.6,347.6 225.85,343.6 226.1,346.3 226.35,349.2 226.6,347.9 226.85,344.8 227.1,349.3 227.35,348.8 227.6,349.9 227.85,352.2 228.1,352.0 228.35,351.6 228.6,353.8 228.85,353.8 229.1,354.0 229.35,355.0 229.6,355.6 229.85,355.4 230.1,355.9 230.35,357.5 230.6,356.5 230.85,356.7 231.1,362.6 231.35,360.5 231.6,361.9 231.85,362.6 232.1,364.0 232.35,365.1 232.6,366.2 232.85,365.2 233.1,370.5 233.35,367.7 233.6,373.0 233.85,367.0 234.1,370.2 234.35,376.3 234.6,374.7 234.85,374.6 235.1,378.2 235.35,375.9 235.6,379.7 235.85,375.3 236.1,380.7 236.35,381.3 236.6,385.2 236.85,387.1 237.1,384.1 237.35,391.1 237.6,386.9 237.85,384.5 238.1,384.8 238.35,395.3 238.6,392.6 238.85,392.3 239.1,393.2 239.35,393.5 239.6,400.5 239.85,398.2 240.1,403.8 240.35,400.1 240.6,396.1 240.85,404.9 241.1,403.1 241.35,404.6 241.6,410.1 241.85,406.8 242.1,411.4 242.35,409.8 242.6,409.1 242.85,413.4 243.1,411.9 243.35,417.5 243.6,418.1 243.85,417.2 244.1,419.7 244.35,420.8 244.6,420.0 244.85,424.0 245.1,422.4 245.35,425.6 245.6,423.0 245.85,426.6 246.1,428.4 246.35,426.7 246.6,428.6 246.85,429.4 247.1,433.4 247.35,431.1 247.6,434.9 247.85,438.4 248.1,436.7 248.35,433.3 248.6,438.3 248.85,441.3 249.1,439.4 249.35,443.4 249.6,443.3 249.85,443.9 250.1,443.4 250.35,443.8 250.6,445.3 250.85,446.9 251.1,448.8 251.35,449.5 251.6,449.0 251.85,450.6 252.1,452.2 252.35,449.1 252.6,451.7 252.85,452.5 253.1,454.6 253.35,455.3 253.6,456.2 253.85,455.9 254.1,459.6 254.35,459.7 254.6,457.1 254.85,460.9 255.1,459.7 255.35,465.5 255.6,462.5 255.85,463.4 256.1,465.1 256.35,465.4 256.6,466.4 256.85,470.0 257.1,468.5 257.35,470.3 257.6,471.6 257.85,468.8 258.1,474.1 258.35,473.2 258.6,474.4 258.85,472.1 259.1,475.7 259.35,475.8 259.6,475.0 259.85,480.6 260.1,478.4 260.35,477.8 260.6,479.3 260.85,481.3 261.1,482.5 261.35,482.3 261.6,484.2 261.85,485.4 262.1,481.6 262.35,483.6 262.6,483.6 262.85,486.1 263.1,489.1 263.35,488.6 263.6,486.5 263.85,488.5 264.1,491.5 264.35,489.6 264.6,491.1 264.85,492.5 265.1,489.8 265.35,494.8 265.6,494.8 265.85,495.9 266.1,494.1 266.35,495.2 266.6,496.2 266.85,498.3 267.1,498.7 267.35,499.6 267.6,502.9 267.85,502.9 268.1,500.4 268.35,501.2 268.6,505.6 268.85,503.1 269.1,506.5 269.35,507.5 269.6,504.9 269.85,506.0 270.1,507.2 270.35,506.5 270.6,507.0 270.85,508.5 271.1,511.1 271.35,509.8 271.6,510.8 271.85,511.1 272.1,510.5 272.35,515.3 272.6,510.4 272.85,513.5 273.1,515.9 273.35,513.7 273.6,517.3 273.85,518.9 274.1,516.5 274.35,518.7 274.6,517.4 274.85,520.4 275.1,520.5 275.35,521.3 275.6,523.7 275.85,523.0 276.1,525.0 276.35,524.6 276.6,522.6 276.85,525.4 277.1,526.5 277.35,524.2 277.6,529.1 277.85,527.9 278.1,529.1 278.35,527.8 278.6,530.0 278.85,531.1 279.1,530.9 279.35,532.2 279.6,529.4 279.85,535.7 280.1,532.5 280.35,531.5 280.6,534.2 280.85,535.1 281.1,538.0 281.35,536.4 281.6,539.0 281.85,537.8 282.1,543.3 282.35,541.5 282.6,544.2 282.85,540.5 283.1,543.6 283.35,541.9 283.6,544.8 283.85,545.5 284.1,542.5 284.35,543.9 284.6,544.5 284.85,544.5 285.1,546.4 285.35,546.5 285.6,546.3 285.85,549.4 286.1,550.7 286.35,548.1 286.6,549.9 286.85,551.4 287.1,551.6 287.35,551.3 287.6,554.5 287.85,555.1 288.1,555.4 288.35,554.5 288.6,558.9 288.85,559.1 289.1,556.1 289.35,557.2 289.6,560.1 289.85,557.4 290.1,560.1 290.35,560.1 290.6,559.5 290.85,560.9 291.1,559.3 291.35,561.6 291.6,559.8 291.85,567.6 292.1,566.9 292.35,567.0 292.6,566.0 292.85,567.7 293.1,568.8 293.35,568.9 293.6,569.3 293.85,566.8 294.1,569.6 294.35,568.5 294.6,568.0 294.85,568.6 295.1,571.8 295.35,573.3 295.6,569.7 295.85,575.5 296.1,575.4 296.35,572.7 296.6,573.0 296.85,574.0 297.1,576.2 297.35,574.2 297.6,573.3 297.85,576.1 298.1,572.3 298.35,576.3 298.6,578.3 298.85,577.1 299.1,578.2 299.35,578.0 299.6,578.6 299.85,577.9 300.1,577.4 300.35,578.0 300.6,578.3 300.85,579.2 301.1,579.5 301.35,579.2 301.6,578.8 301.85,579.1 302.1,579.5 302.35,580.5 302.6,580.2 302.85,580.2 303.1,580.1 303.35,581.1 303.6,581.0 303.85,581.1 304.1,581.4 304.35,582.4 304.6,581.7 304.85,582.9 305,582.9 305.5,582.7 306,583.7 306.5,583.7 307,583.8 307.5,584.7 308,584.9 308.5,586.4 309,586.6 309.5,587.6 310,588.3 310.5,586.3 311,589.2 311.5,588.4 312,590.3 312.5,590.2 313,591.4 313.5,592.8 314,591.5 314.5,593.3 315,593.7 315.5,593.1 316,595.2 316.5,595.4 317,595.6 317.5,596.1 318,599.1 318.5,597.4 319,597.1 319.5,598.2 320,599.1 320.5,599.6 321,600.4 321.5,600.4 322,601.9 322.5,601.9 323,601.9 323.5,602.8 324,603.7 324.5,605.1 325,605.5 325.5,605.6 326,606.4 326.5,607.2 327,609.2 327.5,607.9 328,609.4 328.5,610.3 329,609.7 329.5,611.2 330,611.8 330.5,612.3 331,613.1 331.5,613.9 332,614.5 332.5,614.9 333,615.6 333.5,616.5 334,616.6 334.5,617.4 335,618.0 335.5,618.5 336,619.1 336.5,619.5 337,620.1 337.5,620.7 338,621.0 338.5,621.6 339,622.0 339.5,622.5 340,623.0 340.5,623.3 341,624.1 341.5,624.8 342,625.2 342.5,625.7 343,625.8 343.5,626.7 344,626.8 344.5,627.4 345,628.2 345.5,628.2 346,629.0 346.5,629.5 347,629.9 347.5,630.3 348,631.0 348.5,631.4 349,632.2 349.5,632.7 350,632.8 350.5,633.5 351,634.0 351.5,634.4 352,634.9 352.5,635.6 353,636.1 353.5,636.4 354,637.0 354.5,637.7 355,637.9 355.5,638.4 356,639.3 356.5,639.7 357,639.7 357.5,640.1 358,640.8 358.5,641.0 359,641.6 359.5,641.9 360,642.5 360.5,642.4 361,642.8 361.5,643.4 362,644.1 362.5,644.3 363,644.4 363.5,645.2 364,645.6 364.5,645.8 365,646.1 365.5,646.6 366,647.1 366.5,647.3 367,647.7 367.5,648.0 368,648.3 368.5,648.5 369,649.1 369.5,649.3 370,649.7 370.5,650.2 371,650.5 371.5,650.9 372,650.9 372.5,651.5 373,651.7 373.5,652.0 374,652.3 374.5,653.0 375,653.3 375.5,653.3 376,653.6 376.5,654.1 377,654.4 377.5,655.0 378,654.8 378.5,655.1 379,655.7 379.5,656.0 380,656.4 380.5,656.8 381,657.3 381.5,657.3 382,657.5 382.5,657.7 383,658.3 383.5,658.7 384,658.9 384.5,659.4 385,659.6 385.5,660.1 386,660.2 386.5,660.4 387,660.8 387.5,660.9 388,661.3 388.5,661.9 389,662.4 389.5,662.9 390,662.9 390.5,663.2 391,663.4 391.5,664.1 392,664.3 392.5,664.5 393,665.1 393.5,665.4 394,665.3 394.5,666.1 395,666.3 395.5,666.6 396,666.9 396.5,667.5 397,667.8 397.5,668.2 398,668.0 398.5,668.4 399,668.9 399.5,668.8 400,669.2 400.5,669.3 401,670.1 401.5,670.2 402,670.4 402.5,670.6 403,670.7 403.5,671.0 404,671.3 404.5,671.3 405,671.9 405.5,671.8 406,672.0 406.5,672.5 407,672.5 407.5,672.8 408,672.9 408.5,672.8 409,673.5 409.5,673.4 410,674.0 410.5,673.8 411,673.9 411.5,674.5 412,674.7 412.5,674.9 413,674.9 413.5,675.5 414,675.3 414.5,675.7 415,675.9 415.5,676.2 416,676.7 416.5,676.7 417,677.1 417.5,677.4 418,677.3 418.5,677.6 419,678.0 419.5,678.2 420,678.6 420.5,678.5 421,679.2 421.5,679.5 422,679.6 422.5,679.7 423,680.2 423.5,680.3 424,680.8 424.5,680.9 425,681.3 425.5,681.4 426,681.9 426.5,681.6 427,682.0 427.5,682.5 428,682.4 428.5,683.0 429,682.9 429.5,683.3 430,683.4 430.5,683.6 431,684.0 431.5,684.1 432,684.3 432.5,685.1 433,684.8 433.5,684.8 434,685.5 434.5,685.6 435,685.9 435.5,686.3 436,685.8 436.5,686.5 437,686.7 437.5,686.6 438,686.9 438.5,686.2 439,687.0 439.5,687.8 440,687.1 440.5,687.6 441,688.0 441.5,688.3 442,688.7 442.5,688.0 443,688.6 443.5,689.0 444,688.6 444.5,689.1 445,689.8 445.5,689.8 446,689.7 446.5,689.1 447,689.9 447.5,690.1 448,690.1 448.5,690.3 449,691.3 449.5,690.6 450,690.5 450.5,691.0 451,691.0 451.5,691.1 452,691.3 452.5,691.7 453,691.7 453.5,691.5 454,692.0 454.5,692.3 455,692.2 455.5,692.8 456,692.9 456.5,692.7 457,693.2 457.5,693.9 458,694.0 458.5,693.8 459,694.2 459.5,694.0 460,694.1 460.5,694.8 461,694.9 461.5,695.2 462,695.3 462.5,695.6 463,695.6 463.5,696.1 464,696.4 464.5,696.4 465,696.8 465.5,696.4 466,696.8 466.5,697.6 467,697.8 467.5,697.6 468,697.7 468.5,697.5 469,698.1 469.5,698.4 470,697.9 470.5,698.6 471,698.7 471.5,698.8 472,698.6 472.5,699.1 473,698.7 473.5,699.6 474,699.4 474.5,699.2 475,699.9 475.5,700.0 476,699.6 476.5,700.5 477,699.8 477.5,700.2 478,700.6 478.5,699.8 479,700.7 479.5,700.6 480,700.7 480.5,700.5 481,701.0 481.5,700.7 482,700.8 482.5,701.1 483,701.0 483.5,701.8 484,701.2 484.5,701.4 485,701.6 485.5,701.8 486,702.2 486.5,702.3 487,702.1 487.5,702.2 488,702.4 488.5,702.7 489,702.8 489.5,702.6 490,702.4 490.5,703.6 491,703.4 491.5,703.4 492,703.5 492.5,703.4 493,703.5 493.5,703.8 494,703.9 494.5,704.0 495,703.9 495.5,704.4 496,704.8 496.5,704.6 497,704.9 497.5,704.5 498,705.2 498.5,705.3 499,705.2 499.5,705.2 500,706.0 500.5,705.8 501,706.3 501.5,706.2 502,706.6 502.5,706.5 503,706.4 503.5,706.9 504,707.0 504.5,707.4 505,707.2 505.5,707.4 506,707.8 506.5,708.1 507,708.1 507.5,708.3 508,708.3 508.5,708.5 509,708.6 509.5,708.6 510,708.6 510.5,708.8 511,709.4 511.5,708.9 512,709.0 512.5,709.0 513,709.2 513.5,709.3 514,709.1 514.5,708.9 515,709.6 515.5,709.2 516,709.8 516.5,709.8 517,710.1 517.5,710.3 518,710.1 518.5,709.9 519,709.8 519.5,710.0 520,710.3 520.5,709.8 521,710.4 521.5,710.5 522,710.7 522.5,710.5 523,710.7 523.5,710.5 524,710.7 524.5,710.4 525,711.0 525.5,711.4 526,711.1 526.5,711.2 527,710.9 527.5,711.6 528,711.1 528.5,711.6 529,711.5 529.5,711.3 530,711.9 530.5,711.7 531,711.8 531.5,712.0 532,711.9 532.5,711.9 533,712.2 533.5,712.1 534,712.3 534.5,712.2 535,712.1 535.5,712.4 536,712.6 536.5,712.8 537,713.2 537.5,712.6 538,713.1 538.5,712.6 539,713.0 539.5,713.3 540,712.9 540.5,713.2 541,713.8 541.5,713.9 542,713.9 542.5,713.9 543,714.8 543.5,714.3 544,714.2 544.5,715.0 545,714.8 545.5,714.7 546,715.2 546.5,715.1 547,715.3 547.5,715.3 548,715.1 548.5,715.7 549,715.6 549.5,715.5 550,715.6 550.5,716.2 551,716.0 551.5,716.2 552,716.5 552.5,716.4 553,716.1 553.5,716.8 554,717.0 554.5,717.1 555,717.4 555.5,717.1 556,717.3 556.5,717.6 557,717.3 557.5,717.9 558,718.0 558.5,717.8 559,718.2 559.5,718.0 560,717.7 560.5,718.3 561,718.1 561.5,718.2 562,718.2 562.5,718.6 563,718.5 563.5,718.2 564,718.6 564.5,718.7 565,718.4 565.5,718.6 566,718.6 566.5,718.6 567,718.9 567.5,719.2 568,719.4 568.5,719.3 569,719.3 569.5,719.4 570,719.5 570.5,719.1 571,719.5 571.5,719.4 572,719.4 572.5,719.3 573,719.4 573.5,719.5 574,719.3 574.5,719.8 575,719.7 575.5,719.8 576,719.9 576.5,720.1 577,719.8 577.5,720.0 578,719.6 578.5,719.5 579,719.7 579.5,720.6 580,719.8 580.5,720.5 581,720.8 581.5,720.4 582,721.0 582.5,721.1 583,721.0 583.5,721.4 584,721.0 584.5,720.8 585,721.2 585.5,721.0 586,720.9 586.5,721.0 587,722.0 587.5,721.4 588,721.6 588.5,721.5 589,721.8 589.5,721.8 590,721.9 590.5,721.8 591,721.8 591.5,722.1 592,722.5 592.5,723.0 593,722.9 593.5,723.2 594,723.0 594.5,722.9 595,722.7 595.5,723.1 596,722.7 596.5,723.3 597,723.9 597.5,723.6 598,723.9 598.5,723.6 599,723.5 599.5,723.8 600,723.9 600.5,724.4 601,724.7 601.5,724.1 602,724.3 602.5,724.4 603,724.4 603.5,724.3 604,724.7 604.5,724.8 605,724.9 605.5,724.6 606,724.9 606.5,724.5 607,725.3 607.5,724.8 608,725.1 608.5,725.1 609,725.1 609.5,725.0 610,724.9 610.5,725.9 611,725.5 611.5,725.6 612,726.1 612.5,725.6 613,725.8 613.5,725.7 614,726.1 614.5,725.9 615,725.9 615.5,725.8 616,726.0 616.5,726.3 617,725.5 617.5,726.1 618,726.0 618.5,726.1 619,725.7 619.5,726.5 620,726.1 620.5,726.3 621,726.3 621.5,726.0 622,726.4 622.5,726.1 623,726.4 623.5,726.6 624,726.7 624.5,726.8 625,726.8 625.5,727.4 626,727.1 626.5,726.7 627,726.9 627.5,727.0 628,727.1 628.5,727.1 629,727.1 629.5,727.8 630,727.4 630.5,727.4 631,727.5 631.5,727.6 632,728.0 632.5,727.9 633,728.1 633.5,727.1 634,728.0 634.5,728.3 635,728.6 635.5,728.2 636,727.8 636.5,728.5 637,728.2 637.5,728.0 638,728.3 638.5,728.8 639,729.0 639.5,728.9 640,728.5 640.5,729.5 641,728.6 641.5,729.0 642,728.7 642.5,729.5 643,729.3 643.5,729.5 644,729.4 644.5,729.4 645,729.5 645.5,729.1 646,729.9 646.5,729.9 647,729.7 647.5,729.8 648,730.0 648.5,730.4 649,730.1 649.5,730.1 650,730.0 650.5,729.8 651,730.1 651.5,730.4 652,730.4 652.5,730.5 653,730.7 653.5,730.7 654,730.7 654.5,730.9 655,730.8 655.5,730.8 656,731.0 656.5,730.5 657,731.4 657.5,730.8 658,731.4 658.5,731.2 659,731.5 659.5,731.3 660,731.1 660.5,731.7 661,731.5 661.5,731.6 662,731.6 662.5,731.9 663,731.9 663.5,731.8 664,731.4 664.5,731.8 665,732.0 665.5,732.4 666,732.1 666.5,732.1 667,732.4 667.5,732.2 668,732.2 668.5,732.3 669,732.0 669.5,732.7 670,732.6 670.5,732.5 671,732.3 671.5,732.7 672,733.1 672.5,732.6 673,732.5 673.5,733.0 674,732.5 674.5,732.4 675,732.9 675.5,732.9 676,733.1 676.5,733.1 677,733.4 677.5,733.3 678,733.2 678.5,733.3 679,733.7 679.5,733.8 680,733.9 680.5,733.9 681,732.9 681.5,733.5 682,733.8 682.5,734.0 683,733.6 683.5,734.4 684,734.2 684.5,734.0 685,734.3 685.5,734.2 686,734.2 686.5,734.5 687,734.4 687.5,734.2 688,734.4 688.5,734.6 689,734.4 689.5,735.1 690,734.6 690.5,735.3 691,735.2 691.5,734.8 692,735.1 692.5,735.4 693,735.2 693.5,735.0 694,735.4 694.5,735.9 695,735.1 695.5,735.7 696,735.6 696.5,735.6 697,735.6 697.5,735.7 698,736.1 698.5,736.0 699,735.7 699.5,736.4 700,735.7 700.5,736.3 701,736.2 701.5,736.6 702,736.4 702.5,736.6 703,736.4 703.5,736.7 704,736.6 704.5,737.2 705,736.5 705.5,737.1 706,736.9 706.5,736.9 707,736.8 707.5,737.1 708,736.7 708.5,736.8 709,737.3 709.5,736.8 710,737.7 710.5,737.3 711,737.5 711.5,737.5 712,737.6 712.5,737.5 713,737.5 713.5,737.7 714,738.0 714.5,738.1 715,738.2 715.5,738.0 716,737.9 716.5,737.6 717,738.3 717.5,738.4 718,738.1 718.5,738.5 719,738.7 719.5,738.4 720,738.7 720.5,738.6 721,738.1 721.5,738.5 722,738.6 722.5,738.9 723,738.6 723.5,738.7 724,738.7 724.5,738.9 725,739.0 725.5,739.3 726,739.3 726.5,739.2 727,739.3 727.5,739.3 728,739.4 728.5,739.8 729,738.8 729.5,739.5 730,739.6 730.5,739.9 731,739.4 731.5,739.8 732,740.0 732.5,739.7 733,739.4 733.5,739.8 734,739.7 734.5,740.2 735,739.9 735.5,740.6 736,740.2 736.5,740.1 737,740.2 737.5,740.1 738,740.5 738.5,740.8 739,740.5 739.5,740.8 740,740.4 740.5,740.7 741,741.3 741.5,740.4 742,741.1 742.5,741.2 743,740.4 743.5,740.6 744,740.8 744.5,741.3 745,741.0 745.5,741.1 746,741.4 746.5,741.3 747,741.3 747.5,741.2 748,741.7 748.5,741.2 749,741.9 749.5,741.4 750,741.4 750.5,741.8 751,741.8 751.5,741.2 752,741.8 752.5,741.4 753,741.6 753.5,742.1 754,741.7 754.5,742.1 755,741.9 755.5,742.6 756,742.1 756.5,741.9 757,741.9 757.5,742.0 758,742.3 758.5,742.4 759,742.7 759.5,742.5 760,742.5 760.5,742.6 761,742.6 761.5,742.7 762,742.9 762.5,743.0 763,742.7 763.5,742.4 764,742.7 764.5,743.1 765,742.4 765.5,743.0 766,743.3 766.5,743.1 767,743.0 767.5,743.8 768,743.8 768.5,743.4 769,743.9 769.5,744.0 770,743.5 770.5,744.5 771,743.7 771.5,744.0 772,743.8 772.5,744.2 773,744.0 773.5,744.4 774,744.7 774.5,744.6 775,744.5 775.5,745.1 776,744.1 776.5,745.5 777,744.7 777.5,745.1 778,745.0 778.5,745.1 779,745.0 779.5,744.5 780,744.6 780.5,745.3 781,744.9 781.5,744.2 782,744.5 782.5,744.4 783,744.8 783.5,744.9 784,744.8 784.5,744.2 785,744.6 785.5,743.6 786,742.5 786.5,744.4 787,743.2 787.5,743.6 788,743.4 788.5,744.6 789,743.3 789.5,744.3 790,743.7 790.5,743.2 791,742.9 791.5,744.3 792,744.3 792.5,744.6 793,745.4 793.5,744.3 794,744.4 794.5,744.1 795,744.4 795.5,744.1 796,743.8 796.5,745.9 797,743.3 797.5,744.9 798,745.1 798.5,745.0 799,744.3 799.5,745.0 800,744.9 800.5,744.6 801,745.4 801.5,745.2 802,745.2 802.5,746.2 803,745.1 803.5,746.2 804,745.6 804.5,746.4 805,746.2 805.5,746.4 806,745.6 806.5,745.8 807,745.7 807.5,746.5 808,746.9 808.5,747.2 809,746.0 809.5,746.4 810,745.2 810.5,744.7 811,745.5 811.5,745.6 812,744.9 812.5,744.6 813,746.2 813.5,745.2 814,744.5 814.5,747.3 815,745.8 815.5,745.5 816,746.2 816.5,745.6 817,746.3 817.5,745.6 818,745.9 818.5,746.1 819,746.1 819.5,746.6 820,746.2 820.5,746.6 821,746.8 821.5,746.9 822,747.1 822.5,747.2 823,747.4 823.5,747.4 824,747.6 824.5,747.8 825,747.8 825.5,748.0 826,748.1 826.5,748.2 827,748.3 827.5,748.5 828,748.6 828.5,748.7 829,748.8 829.5,749.0 830,749.1 830.5,749.1 831,749.1 831.5,749.2 832,749.3 832.5,749.4 833,749.5 833.5,749.5 834,749.6 834.5,749.6 835,749.7 835.5,749.7 836,749.8 836.5,749.9 837,749.9 837.5,750.0 838,750.1 838.5,750.1 839,750.3 839.5,750.2 840,750.3 840.5,750.4 841,750.4 841.5,750.4 842,750.6 842.5,750.6 843,750.6 843.5,750.7 844,750.8 844.5,750.9 845,750.9 845.5,751.0 846,751.0 846.5,751.1 847,751.0 847.5,751.2 848,751.2 848.5,751.2 849,751.4 849.5,751.3 850,751.5 850.5,751.4 851,751.6 851.5,751.5 852,751.5 852.5,751.7 853,751.7 853.5,751.8 854,751.8 854.5,751.8 855,751.9 855.5,752.0 856,752.0 856.5,752.0 857,752.0 857.5,752.2 858,752.2 858.5,752.2 859,752.2 859.5,752.4 860,752.3 860.5,752.4 861,752.4 861.5,752.4 862,752.5 862.5,752.6 863,752.7 863.5,752.8 864,752.7 864.5,752.8 865,752.9 865.5,752.9 866,752.9 866.5,753.0 867,753.0 867.5,753.1 868,753.1 868.5,753.2 869,753.2 869.5,753.3 870,753.4 870.5,753.3 871,753.3 871.5,753.4 872,753.4 872.5,753.5 873,753.6 873.5,753.7 874,753.7 874.5,753.7 875,753.8 875.5,753.7 876,753.8 876.5,753.9 877,754.0 877.5,753.9 878,753.9 878.5,754.1 879,754.1 879.5,754.1 880,754.2 880.5,754.2 881,754.2 881.5,754.3 882,754.3 882.5,754.4 883,754.4 883.5,754.5 884,754.5 884.5,754.6 885,754.6 885.5,754.7 886,754.7 886.5,754.7 887,754.7 887.5,754.8 888,754.9 888.5,755.0 889,754.9 889.5,754.9 890,755.0 890.5,755.1 891,755.1 891.5,755.2 892,755.1 892.5,755.2 893,755.3 893.5,755.4 894,755.4 894.5,755.4 895,755.5 895.5,755.6 896,755.6 896.5,755.6 897,755.7 897.5,755.7 898,755.7 898.5,755.8 899,755.9 899.5,755.9 900,756.0 900.5,756.0 901,756.1 901.5,756.1 902,756.2 902.5,756.2 903,756.3 903.5,756.4 904,756.5 904.5,756.4 905,756.6 905.5,756.6 906,756.7 906.5,756.7 907,756.8 907.5,756.9 908,756.9 908.5,756.9 909,757.1 909.5,757.1 910,757.2 910.5,757.2 911,757.2 911.5,757.3 912,757.3 912.5,757.4 913,757.4 913.5,757.5 914,757.5 914.5,757.5 915,757.5 915.5,757.6 916,757.7 916.5,757.7 917,757.7 917.5,757.8 918,757.7 918.5,757.8 919,757.8 919.5,757.9 920,757.9 920.5,757.8 921,757.8 921.5,757.9 922,757.9 922.5,757.9 923,757.9 923.5,757.9 924,757.7 924.5,757.6 925,757.5 925.5,757.2 926,757.0 926.5,756.9 927,756.7 927.5,756.5 928,756.5 928.5,756.4 929,756.4 929.5,756.4 930,756.6 930.5,756.7 931,756.8" fill="none" stroke="#008000" stroke-width="3.15" stroke-linejoin="round" stroke-linecap="round"/>
<path d="M229.2,357.0 228.3,354.9 227.6,352.8 226.0,350.8 225.3,348.7 224.4,346.6 224.0,344.5 222.9,341.0 222.3,337.5 222.1,334.0 221.1,330.5 220.5,327.0 219.8,323.5 219.2,321.2 217.9,318.8 217.5,316.5 216.7,314.2 215.7,311.8 215.4,309.5 215.0,308.9 214.2,308.3 213.8,307.8 213.5,307.2 212.7,306.6 212.9,306.0 212.7,296.1 212.6,286.1 212.5,276.1 212.7,266.2 212.8,256.2 212.3,246.3 215.2,246.3 215.4,249.1 215.7,251.9 215.8,254.7 216.2,257.4 217.1,260.2 217.3,263.0 218.2,265.0 217.2,267.0 217.5,269.0 217.4,271.0 218.7,273.0 217.6,275.0 218.7,277.0 219.2,279.0 218.6,281.0 219.2,283.0 218.1,285.0 219.0,287.0 218.6,289.2 219.6,291.3 219.7,293.5 219.5,295.7 220.4,297.8 220.3,300.0 220.3,301.2 220.6,302.3 220.4,303.5 221.3,304.7 222.6,305.8 221.7,307.0 222.9,309.7 223.1,312.3 224.4,315.0 225.0,317.7 225.4,320.3 225.4,323.0 226.6,326.5 228.0,330.0 228.0,333.5 229.0,337.0 229.1,340.5 229.2,344.0 230.6,346.2 231.1,348.3 231.1,350.5 231.7,352.7 232.5,354.8 232.8,357.0Z" fill="#008000" stroke="#008000" stroke-width="0.8" stroke-linejoin="round"/>
<g fill="none" stroke="#ff0000" stroke-width="2.9" opacity="0.88">
<path d="M280.4,324.3 V841.0" stroke-dasharray="10.6 10.46"/>
<path d="M278.95,324.3 H290.2"/>
<path d="M298.2,327.0 V824" stroke-width="2.6" stroke-dasharray="10.6 10.46"/>
<path d="M291.6,839 L298.8,833.6" stroke-width="2.6"/>
<path d="M830.0,555.7 V841.0" stroke-dasharray="10.6 10.46"/>
<path d="M828.55,555.7 H913.6" stroke-dasharray="10.6 10.46"/>
<path d="M913.6,556.2 L916.3,564.6" />
<path d="M916.3,573.8 V841.0" stroke-dasharray="10.6 10.46"/>
<path d="M833.5,840.6 H916" stroke-dasharray="10.8 10.2" stroke-dashoffset="0"/>
</g>
<path d="M111.5,228.0 H932.2 V839.5" fill="none" stroke="#333" stroke-width="2.6" stroke-linejoin="round"/>
<path d="M111.5,226.8 V839.5 H933.4000000000001" fill="none" stroke="#141414" stroke-width="2.8" stroke-linejoin="round"/>
<line x1="111.50" y1="810.39" x2="118.80" y2="810.39" stroke="#1e1e1e" stroke-width="2.5" />
<line x1="111.50" y1="781.29" x2="124.10" y2="781.29" stroke="#1e1e1e" stroke-width="2.5" />
<line x1="111.50" y1="752.18" x2="118.80" y2="752.18" stroke="#1e1e1e" stroke-width="2.5" />
<line x1="111.50" y1="723.08" x2="124.10" y2="723.08" stroke="#1e1e1e" stroke-width="2.5" />
<line x1="111.50" y1="693.98" x2="118.80" y2="693.98" stroke="#1e1e1e" stroke-width="2.5" />
<line x1="111.50" y1="664.87" x2="124.10" y2="664.87" stroke="#1e1e1e" stroke-width="2.5" />
<line x1="111.50" y1="635.76" x2="118.80" y2="635.76" stroke="#1e1e1e" stroke-width="2.5" />
<line x1="111.50" y1="606.66" x2="124.10" y2="606.66" stroke="#1e1e1e" stroke-width="2.5" />
<line x1="111.50" y1="577.56" x2="118.80" y2="577.56" stroke="#1e1e1e" stroke-width="2.5" />
<line x1="111.50" y1="548.45" x2="124.10" y2="548.45" stroke="#1e1e1e" stroke-width="2.5" />
<line x1="111.50" y1="519.35" x2="118.80" y2="519.35" stroke="#1e1e1e" stroke-width="2.5" />
<line x1="111.50" y1="490.24" x2="124.10" y2="490.24" stroke="#1e1e1e" stroke-width="2.5" />
<line x1="111.50" y1="461.13" x2="118.80" y2="461.13" stroke="#1e1e1e" stroke-width="2.5" />
<line x1="111.50" y1="432.03" x2="124.10" y2="432.03" stroke="#1e1e1e" stroke-width="2.5" />
<line x1="111.50" y1="402.93" x2="118.80" y2="402.93" stroke="#1e1e1e" stroke-width="2.5" />
<line x1="111.50" y1="373.82" x2="124.10" y2="373.82" stroke="#1e1e1e" stroke-width="2.5" />
<line x1="111.50" y1="344.71" x2="118.80" y2="344.71" stroke="#1e1e1e" stroke-width="2.5" />
<line x1="111.50" y1="315.61" x2="124.10" y2="315.61" stroke="#1e1e1e" stroke-width="2.5" />
<line x1="111.50" y1="286.50" x2="118.80" y2="286.50" stroke="#1e1e1e" stroke-width="2.5" />
<line x1="111.50" y1="257.40" x2="124.10" y2="257.40" stroke="#1e1e1e" stroke-width="2.5" />
<line x1="161.95" y1="839.50" x2="161.95" y2="832.90" stroke="#1e1e1e" stroke-width="2.5" />
<line x1="213.30" y1="839.50" x2="213.30" y2="826.90" stroke="#1e1e1e" stroke-width="2.5" />
<line x1="264.65" y1="839.50" x2="264.65" y2="832.90" stroke="#1e1e1e" stroke-width="2.5" />
<line x1="316.00" y1="839.50" x2="316.00" y2="826.90" stroke="#1e1e1e" stroke-width="2.5" />
<line x1="367.35" y1="839.50" x2="367.35" y2="832.90" stroke="#1e1e1e" stroke-width="2.5" />
<line x1="418.70" y1="839.50" x2="418.70" y2="826.90" stroke="#1e1e1e" stroke-width="2.5" />
<line x1="470.05" y1="839.50" x2="470.05" y2="832.90" stroke="#1e1e1e" stroke-width="2.5" />
<line x1="521.40" y1="839.50" x2="521.40" y2="826.90" stroke="#1e1e1e" stroke-width="2.5" />
<line x1="572.75" y1="839.50" x2="572.75" y2="832.90" stroke="#1e1e1e" stroke-width="2.5" />
<line x1="624.10" y1="839.50" x2="624.10" y2="826.90" stroke="#1e1e1e" stroke-width="2.5" />
<line x1="675.45" y1="839.50" x2="675.45" y2="832.90" stroke="#1e1e1e" stroke-width="2.5" />
<line x1="726.80" y1="839.50" x2="726.80" y2="826.90" stroke="#1e1e1e" stroke-width="2.5" />
<line x1="778.15" y1="839.50" x2="778.15" y2="832.90" stroke="#1e1e1e" stroke-width="2.5" />
<line x1="829.50" y1="839.50" x2="829.50" y2="826.90" stroke="#1e1e1e" stroke-width="2.5" />
<line x1="880.85" y1="839.50" x2="880.85" y2="832.90" stroke="#1e1e1e" stroke-width="2.5" />
<path d="M833.5,840.8 H916" fill="none" stroke="#ff1c1c" stroke-width="2.2" stroke-dasharray="10.8 10.2" opacity="0.85"/>
<text transform="translate(98.29,850.74) rotate(0.03) scale(0.9234,1)" font-size="37.21" text-anchor="end">0</text>
<text transform="translate(98.29,792.53) rotate(0.03) scale(0.9234,1)" font-size="37.21" text-anchor="end">2</text>
<text transform="translate(98.29,734.32) rotate(0.03) scale(0.9234,1)" font-size="37.21" text-anchor="end">4</text>
<text transform="translate(98.29,676.11) rotate(0.03) scale(0.9234,1)" font-size="37.21" text-anchor="end">6</text>
<text transform="translate(98.29,617.90) rotate(0.03) scale(0.9234,1)" font-size="37.21" text-anchor="end">8</text>
<text transform="translate(60.07,559.69) rotate(0.03) scale(0.34360,0.37209)" font-size="100" clip-path="url(#c0)">10</text>
<text transform="translate(60.07,501.48) rotate(0.03) scale(0.34360,0.37209)" font-size="100" clip-path="url(#c0)">12</text>
<text transform="translate(60.07,443.27) rotate(0.03) scale(0.34360,0.37209)" font-size="100" clip-path="url(#c0)">14</text>
<text transform="translate(60.07,385.06) rotate(0.03) scale(0.34360,0.37209)" font-size="100" clip-path="url(#c0)">16</text>
<text transform="translate(60.07,326.85) rotate(0.03) scale(0.34360,0.37209)" font-size="100" clip-path="url(#c0)">18</text>
<text transform="translate(98.29,268.64) rotate(0.03) scale(0.9234,1)" font-size="37.21" text-anchor="end">20</text>
<text transform="translate(212.98,881.88) rotate(0.03) scale(0.9752,1)" font-size="38.44" text-anchor="middle">900</text>
<text transform="translate(273.98,881.88) rotate(0.03) scale(0.37484,0.38438)" font-size="100" clip-path="url(#c0)">1000</text>
<text transform="translate(376.68,881.88) rotate(0.03) scale(0.37484,0.38438)" font-size="100" clip-path="url(#c0_56)">1100</text>
<text transform="translate(479.38,881.88) rotate(0.03) scale(0.37484,0.38438)" font-size="100" clip-path="url(#c0)">1200</text>
<text transform="translate(582.08,881.88) rotate(0.03) scale(0.37484,0.38438)" font-size="100" clip-path="url(#c0)">1300</text>
<text transform="translate(684.78,881.88) rotate(0.03) scale(0.37484,0.38438)" font-size="100" clip-path="url(#c0)">1400</text>
<text transform="translate(787.48,881.88) rotate(0.03) scale(0.37484,0.38438)" font-size="100" clip-path="url(#c0)">1500</text>
<text transform="translate(890.18,881.88) rotate(0.03) scale(0.37484,0.38438)" font-size="100" clip-path="url(#c0)">1600</text>
<text transform="translate(342.84,951.30) rotate(0.03) scale(0.9805,1)" font-size="45.28">Wavelength (nm)</text>
<text transform="translate(35.97,679.54) rotate(-89.97) scale(0.9982,1)" font-size="45.53">RIA (dB/m)</text>
<text transform="translate(654.55,310.06) rotate(0.03) scale(0.9994,1)" font-size="51.26">(a)</text>
<text transform="translate(538.99,374.19) rotate(0.03) scale(0.9865,1)" font-size="51.74">Fiber losses</text>
<text transform="translate(244.25,316.74) rotate(0.03) scale(0.9690,1)" font-size="35.68" fill="#ff0000">Pump</text>
<text transform="translate(812.60,531.55) rotate(0.03) scale(0.9860,1)" font-size="35.33" fill="#ff0000">Signal</text>
<text transform="translate(115.41,250.59) rotate(0.03) scale(1.0152,1)" font-size="27.93" fill="#808000">300 krad</text>
<text transform="translate(126.54,452.05) rotate(0.03) scale(0.28348,0.29451)" font-size="100" clip-path="url(#c0)" fill="#0000ff">163 krad</text>
<text transform="translate(127.19,623.61) rotate(0.03) scale(0.28636,0.29549)" font-size="100" clip-path="url(#c56)" fill="#ff0000">81 krad</text>
<text transform="translate(123.70,689.40) rotate(0.03) scale(0.9941,1)" font-size="28.70">52 krad</text>
</g>
<g id="panel-b">
<polyline points="1122.8,53.1 1217.6,142.0 1271.9,213.5 1420.7,310.8 1678.2,468.2" fill="none" stroke="#2a2a2a" stroke-width="2" stroke-dasharray="9.6 8.4" stroke-dashoffset="-5.5"/>
<rect x="1117.5" y="47.8" width="10.6" height="10.6" fill="#000"/>
<rect x="1212.3" y="136.7" width="10.6" height="10.6" fill="#000"/>
<rect x="1266.6" y="208.2" width="10.6" height="10.6" fill="#000"/>
<rect x="1415.4" y="305.5" width="10.6" height="10.6" fill="#000"/>
<rect x="1672.9" y="462.9" width="10.6" height="10.6" fill="#000"/>
<rect x="1077.6" y="3.4" width="682.2" height="509.3" fill="none" stroke="#2a2a2a" stroke-width="2.45"/>
<line x1="1077.60" y1="490.55" x2="1083.20" y2="490.55" stroke="#2a2a2a" stroke-width="2.1" />
<line x1="1077.60" y1="468.40" x2="1088.10" y2="468.40" stroke="#2a2a2a" stroke-width="2.1" />
<line x1="1077.60" y1="446.25" x2="1083.20" y2="446.25" stroke="#2a2a2a" stroke-width="2.1" />
<line x1="1077.60" y1="424.11" x2="1088.10" y2="424.11" stroke="#2a2a2a" stroke-width="2.1" />
<line x1="1077.60" y1="401.96" x2="1083.20" y2="401.96" stroke="#2a2a2a" stroke-width="2.1" />
<line x1="1077.60" y1="379.82" x2="1088.10" y2="379.82" stroke="#2a2a2a" stroke-width="2.1" />
<line x1="1077.60" y1="357.68" x2="1083.20" y2="357.68" stroke="#2a2a2a" stroke-width="2.1" />
<line x1="1077.60" y1="335.53" x2="1088.10" y2="335.53" stroke="#2a2a2a" stroke-width="2.1" />
<line x1="1077.60" y1="313.38" x2="1083.20" y2="313.38" stroke="#2a2a2a" stroke-width="2.1" />
<line x1="1077.60" y1="291.24" x2="1088.10" y2="291.24" stroke="#2a2a2a" stroke-width="2.1" />
<line x1="1077.60" y1="269.10" x2="1083.20" y2="269.10" stroke="#2a2a2a" stroke-width="2.1" />
<line x1="1077.60" y1="246.95" x2="1088.10" y2="246.95" stroke="#2a2a2a" stroke-width="2.1" />
<line x1="1077.60" y1="224.81" x2="1083.20" y2="224.81" stroke="#2a2a2a" stroke-width="2.1" />
<line x1="1077.60" y1="202.66" x2="1088.10" y2="202.66" stroke="#2a2a2a" stroke-width="2.1" />
<line x1="1077.60" y1="180.51" x2="1083.20" y2="180.51" stroke="#2a2a2a" stroke-width="2.1" />
<line x1="1077.60" y1="158.37" x2="1088.10" y2="158.37" stroke="#2a2a2a" stroke-width="2.1" />
<line x1="1077.60" y1="136.22" x2="1083.20" y2="136.22" stroke="#2a2a2a" stroke-width="2.1" />
<line x1="1077.60" y1="114.08" x2="1088.10" y2="114.08" stroke="#2a2a2a" stroke-width="2.1" />
<line x1="1077.60" y1="91.94" x2="1083.20" y2="91.94" stroke="#2a2a2a" stroke-width="2.1" />
<line x1="1077.60" y1="69.79" x2="1088.10" y2="69.79" stroke="#2a2a2a" stroke-width="2.1" />
<line x1="1077.60" y1="47.64" x2="1083.20" y2="47.64" stroke="#2a2a2a" stroke-width="2.1" />
<line x1="1077.60" y1="25.50" x2="1088.10" y2="25.50" stroke="#2a2a2a" stroke-width="2.1" />
<line x1="1122.90" y1="512.70" x2="1122.90" y2="502.20" stroke="#2a2a2a" stroke-width="2.1" />
<line x1="1168.39" y1="512.70" x2="1168.39" y2="507.10" stroke="#2a2a2a" stroke-width="2.1" />
<line x1="1213.89" y1="512.70" x2="1213.89" y2="502.20" stroke="#2a2a2a" stroke-width="2.1" />
<line x1="1259.38" y1="512.70" x2="1259.38" y2="507.10" stroke="#2a2a2a" stroke-width="2.1" />
<line x1="1304.87" y1="512.70" x2="1304.87" y2="502.20" stroke="#2a2a2a" stroke-width="2.1" />
<line x1="1350.36" y1="512.70" x2="1350.36" y2="507.10" stroke="#2a2a2a" stroke-width="2.1" />
<line x1="1395.86" y1="512.70" x2="1395.86" y2="502.20" stroke="#2a2a2a" stroke-width="2.1" />
<line x1="1441.35" y1="512.70" x2="1441.35" y2="507.10" stroke="#2a2a2a" stroke-width="2.1" />
<line x1="1486.84" y1="512.70" x2="1486.84" y2="502.20" stroke="#2a2a2a" stroke-width="2.1" />
<line x1="1532.34" y1="512.70" x2="1532.34" y2="507.10" stroke="#2a2a2a" stroke-width="2.1" />
<line x1="1577.83" y1="512.70" x2="1577.83" y2="502.20" stroke="#2a2a2a" stroke-width="2.1" />
<line x1="1623.32" y1="512.70" x2="1623.32" y2="507.10" stroke="#2a2a2a" stroke-width="2.1" />
<line x1="1668.81" y1="512.70" x2="1668.81" y2="502.20" stroke="#2a2a2a" stroke-width="2.1" />
<line x1="1714.31" y1="512.70" x2="1714.31" y2="507.10" stroke="#2a2a2a" stroke-width="2.1" />
<text transform="translate(1034.82,521.79) rotate(0.03) scale(0.28258,0.30648)" font-size="100" clip-path="url(#c0)">13</text>
<text transform="translate(1034.82,477.50) rotate(0.03) scale(0.28258,0.30648)" font-size="100" clip-path="url(#c0)">14</text>
<text transform="translate(1034.82,433.21) rotate(0.03) scale(0.28258,0.30648)" font-size="100" clip-path="url(#c0)">15</text>
<text transform="translate(1034.82,388.92) rotate(0.03) scale(0.28258,0.30648)" font-size="100" clip-path="url(#c0)">16</text>
<text transform="translate(1034.82,344.63) rotate(0.03) scale(0.28258,0.30648)" font-size="100" clip-path="url(#c0)">17</text>
<text transform="translate(1034.82,300.34) rotate(0.03) scale(0.28258,0.30648)" font-size="100" clip-path="url(#c0)">18</text>
<text transform="translate(1034.82,256.05) rotate(0.03) scale(0.28258,0.30648)" font-size="100" clip-path="url(#c0)">19</text>
<text transform="translate(1066.25,211.76) rotate(0.03) scale(0.9220,1)" font-size="30.65" text-anchor="end">20</text>
<text transform="translate(1034.82,167.47) rotate(0.03) scale(0.28258,0.30648)" font-size="100" clip-path="url(#c56)">21</text>
<text transform="translate(1066.25,123.18) rotate(0.03) scale(0.9220,1)" font-size="30.65" text-anchor="end">22</text>
<text transform="translate(1066.25,78.89) rotate(0.03) scale(0.9220,1)" font-size="30.65" text-anchor="end">23</text>
<text transform="translate(1066.25,34.60) rotate(0.03) scale(0.9220,1)" font-size="30.65" text-anchor="end">24</text>
<text transform="translate(1122.73,548.19) rotate(0.03) scale(0.9423,1)" font-size="33.01" text-anchor="middle">0</text>
<text transform="translate(1213.72,548.19) rotate(0.03) scale(0.9423,1)" font-size="33.01" text-anchor="middle">50</text>
<text transform="translate(1278.76,548.19) rotate(0.03) scale(0.31102,0.33005)" font-size="100" clip-path="url(#c0)">100</text>
<text transform="translate(1369.74,548.19) rotate(0.03) scale(0.31102,0.33005)" font-size="100" clip-path="url(#c0)">150</text>
<text transform="translate(1486.68,548.19) rotate(0.03) scale(0.9423,1)" font-size="33.01" text-anchor="middle">200</text>
<text transform="translate(1577.66,548.19) rotate(0.03) scale(0.9423,1)" font-size="33.01" text-anchor="middle">250</text>
<text transform="translate(1668.65,548.19) rotate(0.03) scale(0.9423,1)" font-size="33.01" text-anchor="middle">300</text>
<text transform="translate(1759.63,548.19) rotate(0.03) scale(0.9423,1)" font-size="33.01" text-anchor="middle">350</text>
<text transform="translate(1317.02,593.47) rotate(0.03) scale(0.9696,1)" font-size="38.19">Dose (krad)</text>
<text transform="translate(1014.73,373.16) rotate(-89.97) scale(0.9898,1)" font-size="38.41">Gain (dB)</text>
<text transform="translate(1490.07,57.86) rotate(0.03) scale(0.9829,1)" font-size="43.56">(b)</text>
<text transform="translate(1381.28,109.51) rotate(0.03) scale(1.0409,1)" font-size="41.21">Amplifier gain</text>
</g>
<g id="panel-c">
<polyline points="1133.8,1086.0 1231.6,960.2 1287.3,902.8 1441,806.4 1705.6,698.9" fill="none" stroke="#ff1c1c" stroke-width="2.1" stroke-dasharray="9.6 8.4" stroke-dashoffset="-5.5"/>
<rect x="1128.2" y="1080.4" width="11.2" height="11.2" fill="#ff0000"/>
<rect x="1226.0" y="954.6" width="11.2" height="11.2" fill="#ff0000"/>
<rect x="1281.7" y="897.2" width="11.2" height="11.2" fill="#ff0000"/>
<rect x="1435.4" y="800.8" width="11.2" height="11.2" fill="#ff0000"/>
<rect x="1700.0" y="693.3" width="11.2" height="11.2" fill="#ff0000"/>
<rect x="1087.5" y="628.5" width="703.1" height="523.1" fill="none" stroke="#2e2e2e" stroke-width="2.45"/>
<line x1="1087.50" y1="1099.29" x2="1093.50" y2="1099.29" stroke="#2e2e2e" stroke-width="2.1" />
<line x1="1087.50" y1="1046.98" x2="1097.90" y2="1046.98" stroke="#2e2e2e" stroke-width="2.1" />
<line x1="1087.50" y1="994.67" x2="1093.50" y2="994.67" stroke="#2e2e2e" stroke-width="2.1" />
<line x1="1087.50" y1="942.36" x2="1097.90" y2="942.36" stroke="#2e2e2e" stroke-width="2.1" />
<line x1="1087.50" y1="890.05" x2="1093.50" y2="890.05" stroke="#2e2e2e" stroke-width="2.1" />
<line x1="1087.50" y1="837.74" x2="1097.90" y2="837.74" stroke="#2e2e2e" stroke-width="2.1" />
<line x1="1087.50" y1="785.43" x2="1093.50" y2="785.43" stroke="#2e2e2e" stroke-width="2.1" />
<line x1="1087.50" y1="733.12" x2="1097.90" y2="733.12" stroke="#2e2e2e" stroke-width="2.1" />
<line x1="1087.50" y1="680.81" x2="1093.50" y2="680.81" stroke="#2e2e2e" stroke-width="2.1" />
<line x1="1133.90" y1="1151.60" x2="1133.90" y2="1141.20" stroke="#2e2e2e" stroke-width="2.1" />
<line x1="1180.83" y1="1151.60" x2="1180.83" y2="1146.00" stroke="#2e2e2e" stroke-width="2.1" />
<line x1="1227.75" y1="1151.60" x2="1227.75" y2="1141.20" stroke="#2e2e2e" stroke-width="2.1" />
<line x1="1274.67" y1="1151.60" x2="1274.67" y2="1146.00" stroke="#2e2e2e" stroke-width="2.1" />
<line x1="1321.60" y1="1151.60" x2="1321.60" y2="1141.20" stroke="#2e2e2e" stroke-width="2.1" />
<line x1="1368.52" y1="1151.60" x2="1368.52" y2="1146.00" stroke="#2e2e2e" stroke-width="2.1" />
<line x1="1415.45" y1="1151.60" x2="1415.45" y2="1141.20" stroke="#2e2e2e" stroke-width="2.1" />
<line x1="1462.37" y1="1151.60" x2="1462.37" y2="1146.00" stroke="#2e2e2e" stroke-width="2.1" />
<line x1="1509.30" y1="1151.60" x2="1509.30" y2="1141.20" stroke="#2e2e2e" stroke-width="2.1" />
<line x1="1556.22" y1="1151.60" x2="1556.22" y2="1146.00" stroke="#2e2e2e" stroke-width="2.1" />
<line x1="1603.15" y1="1151.60" x2="1603.15" y2="1141.20" stroke="#2e2e2e" stroke-width="2.1" />
<line x1="1650.07" y1="1151.60" x2="1650.07" y2="1146.00" stroke="#2e2e2e" stroke-width="2.1" />
<line x1="1697.00" y1="1151.60" x2="1697.00" y2="1141.20" stroke="#2e2e2e" stroke-width="2.1" />
<line x1="1743.92" y1="1151.60" x2="1743.92" y2="1146.00" stroke="#2e2e2e" stroke-width="2.1" />
<text transform="translate(1076.43,1160.60) rotate(0.03) scale(0.9848,1)" font-size="30.61" text-anchor="end">6</text>
<text transform="translate(1076.43,1055.98) rotate(0.03) scale(0.9848,1)" font-size="30.61" text-anchor="end">7</text>
<text transform="translate(1076.43,951.36) rotate(0.03) scale(0.9848,1)" font-size="30.61" text-anchor="end">8</text>
<text transform="translate(1076.43,846.74) rotate(0.03) scale(0.9848,1)" font-size="30.61" text-anchor="end">9</text>
<text transform="translate(1042.90,742.12) rotate(0.03) scale(0.30149,0.30614)" font-size="100" clip-path="url(#c0)">10</text>
<text transform="translate(1042.90,637.50) rotate(0.03) scale(0.30149,0.30614)" font-size="100" clip-path="url(#c0_56)">11</text>
<text transform="translate(1133.72,1188.31) rotate(0.03) scale(0.9467,1)" font-size="33.95" text-anchor="middle">0</text>
<text transform="translate(1227.57,1188.31) rotate(0.03) scale(0.9467,1)" font-size="33.95" text-anchor="middle">50</text>
<text transform="translate(1294.61,1188.31) rotate(0.03) scale(0.32138,0.33946)" font-size="100" clip-path="url(#c0)">100</text>
<text transform="translate(1388.46,1188.31) rotate(0.03) scale(0.32138,0.33946)" font-size="100" clip-path="url(#c0)">150</text>
<text transform="translate(1509.12,1188.31) rotate(0.03) scale(0.9467,1)" font-size="33.95" text-anchor="middle">200</text>
<text transform="translate(1602.97,1188.31) rotate(0.03) scale(0.9467,1)" font-size="33.95" text-anchor="middle">250</text>
<text transform="translate(1696.82,1188.31) rotate(0.03) scale(0.9467,1)" font-size="33.95" text-anchor="middle">300</text>
<text transform="translate(1790.67,1188.31) rotate(0.03) scale(0.9467,1)" font-size="33.95" text-anchor="middle">350</text>
<text transform="translate(1333.95,1247.09) rotate(0.03) scale(0.9856,1)" font-size="38.85">Dose (krad)</text>
<text transform="translate(1022.75,1076.13) rotate(-89.97) scale(0.9752,1)" font-size="39.87">Noise figure (dB)</text>
<text transform="translate(1270.76,681.16) rotate(0.03) scale(1.0084,1)" font-size="44.52">(c)</text>
<text transform="translate(1184.93,735.06) rotate(0.03) scale(0.9994,1)" font-size="43.86">Noise figure</text>
</g>
</g>
</svg>
</body></html>
